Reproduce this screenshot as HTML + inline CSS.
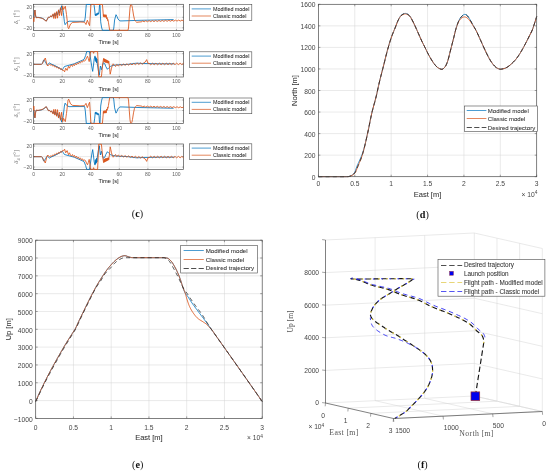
<!DOCTYPE html>
<html lang="en"><head><meta charset="utf-8"><title>Figure</title>
<style>html,body{margin:0;padding:0;background:#fff}svg{display:block}text{white-space:pre}</style>
</head><body>
<svg width="550" height="473" viewBox="0 0 550 473">
<rect x="0" y="0" width="550" height="473" fill="#fff"/>
<filter id="soft" x="0" y="0" width="550" height="473" filterUnits="userSpaceOnUse"><feGaussianBlur stdDeviation="0.35"/></filter>
<g filter="url(#soft)">
<rect x="0" y="0" width="550" height="473" fill="#fff"/>
<defs>
<clipPath id="cc0"><rect x="33.2" y="3.8" width="150.8" height="27.099999999999998"/></clipPath>
<clipPath id="cc1"><rect x="33.2" y="51.0" width="150.8" height="26.5"/></clipPath>
<clipPath id="cc2"><rect x="33.2" y="97.2" width="150.8" height="26.700000000000003"/></clipPath>
<clipPath id="cc3"><rect x="33.2" y="143.5" width="150.8" height="26.5"/></clipPath>
</defs>
<line x1="62.17" y1="4.30" x2="62.17" y2="30.40" stroke="#d4d4d4" stroke-width="0.5"/>
<line x1="90.74" y1="4.30" x2="90.74" y2="30.40" stroke="#d4d4d4" stroke-width="0.5"/>
<line x1="119.31" y1="4.30" x2="119.31" y2="30.40" stroke="#d4d4d4" stroke-width="0.5"/>
<line x1="147.89" y1="4.30" x2="147.89" y2="30.40" stroke="#d4d4d4" stroke-width="0.5"/>
<line x1="176.46" y1="4.30" x2="176.46" y2="30.40" stroke="#d4d4d4" stroke-width="0.5"/>
<line x1="33.60" y1="27.80" x2="183.60" y2="27.80" stroke="#d4d4d4" stroke-width="0.5"/>
<line x1="33.60" y1="17.30" x2="183.60" y2="17.30" stroke="#d4d4d4" stroke-width="0.5"/>
<line x1="33.60" y1="6.80" x2="183.60" y2="6.80" stroke="#d4d4d4" stroke-width="0.5"/>
<rect x="33.60" y="4.30" width="150.00" height="26.10" fill="none" stroke="#4a4a4a" stroke-width="0.7"/>
<g clip-path="url(#cc0)">
<polyline points="33.60,17.30 34.20,13.00 34.80,10.00 35.40,15.00 36.00,17.50 38.00,17.30 41.00,17.80 43.00,18.50 45.00,20.00 46.20,21.10 47.30,19.30 48.40,17.30 49.50,17.30 50.90,16.00 51.60,16.80 53.10,14.50 53.80,16.50 54.90,13.50 55.60,16.00 56.60,12.30 57.50,15.00 58.50,10.50 59.50,13.00 60.50,8.20 61.00,10.00 61.60,5.80 62.50,8.00 63.30,12.40 64.40,21.80 65.10,24.70 66.90,22.20 69.10,21.20 76.00,21.30 84.60,21.30 85.30,17.00 86.30,4.45 94.00,4.45 94.60,9.00 95.30,15.30 95.40,14.20 95.85,15.91 96.30,13.70 96.75,15.34 97.20,13.20 97.65,14.76 98.10,12.70 98.55,14.19 99.00,12.20 99.30,8.00 99.60,4.45 100.00,4.45 100.30,12.00 100.70,21.80 101.50,27.00 102.40,30.25 113.30,30.25 113.80,28.00 114.60,20.00 116.00,14.70 117.00,16.50 118.00,19.00 119.80,20.90 122.00,20.90 140.00,20.30 160.00,19.90 173.60,19.60" fill="none" stroke="#0072BD" stroke-width="0.85" stroke-linejoin="round" />
<polyline points="33.60,17.30 33.80,21.80 34.40,14.00 35.00,10.00 35.60,15.00 36.20,17.80 38.00,17.50 41.00,18.00 43.00,18.80 45.00,20.30 46.30,21.20 47.40,19.00 48.40,17.10 49.50,17.50 50.90,15.60 51.60,17.10 53.10,13.80 53.80,18.50 54.90,12.70 55.60,18.50 56.60,11.60 57.50,18.20 58.50,9.80 59.50,15.60 60.50,7.60 61.60,15.60 62.70,6.20 63.60,9.50 65.30,6.20 66.50,14.50 68.00,27.60 68.70,28.70 70.50,24.00 72.70,22.40 78.00,22.20 80.00,22.00 84.50,22.20 86.00,24.50 86.70,22.00 87.40,20.20 88.40,23.00 89.60,25.60 90.30,15.00 90.90,4.45 102.40,4.45 102.90,10.00 103.40,16.40 103.50,14.60 103.95,17.07 104.40,14.67 104.85,17.20 105.30,14.73 105.75,17.33 106.20,14.80 106.30,15.50 106.72,18.84 107.14,17.54 107.56,20.52 107.98,19.58 108.40,22.20 109.00,26.00 109.70,30.25 128.00,30.25 128.50,28.00 129.30,17.00 130.00,8.00 130.50,5.00 131.20,4.90 131.80,5.20 132.50,8.50 133.50,15.00 134.50,19.60 135.60,21.30 136.70,22.30 139.00,22.00 141.80,21.80 142.50,20.75 144.14,21.81 145.79,20.69 147.43,21.74 149.08,20.64 150.72,21.67 152.36,20.58 154.01,21.60 155.65,20.53 157.30,21.53 158.94,20.47 160.58,21.45 162.23,20.41 163.87,21.38 165.52,20.36 167.16,21.31 168.80,20.30 170.45,21.24 172.09,20.25 173.74,21.17 175.38,20.19 177.02,21.09 178.67,20.13 180.31,21.02 181.96,20.08 183.60,20.95" fill="none" stroke="#D95319" stroke-width="0.85" stroke-linejoin="round" />
</g>
<line x1="33.60" y1="30.40" x2="33.60" y2="29.20" stroke="#4a4a4a" stroke-width="0.5"/>
<line x1="33.60" y1="4.30" x2="33.60" y2="5.50" stroke="#4a4a4a" stroke-width="0.5"/>
<text x="33.60" y="36.50" font-size="5.0" text-anchor="middle" fill="#5e5e5e" stroke="#5e5e5e" stroke-width="0.0" font-family="Liberation Sans, Arial, sans-serif" >0</text>
<line x1="62.17" y1="30.40" x2="62.17" y2="29.20" stroke="#4a4a4a" stroke-width="0.5"/>
<line x1="62.17" y1="4.30" x2="62.17" y2="5.50" stroke="#4a4a4a" stroke-width="0.5"/>
<text x="62.17" y="36.50" font-size="5.0" text-anchor="middle" fill="#5e5e5e" stroke="#5e5e5e" stroke-width="0.0" font-family="Liberation Sans, Arial, sans-serif" >20</text>
<line x1="90.74" y1="30.40" x2="90.74" y2="29.20" stroke="#4a4a4a" stroke-width="0.5"/>
<line x1="90.74" y1="4.30" x2="90.74" y2="5.50" stroke="#4a4a4a" stroke-width="0.5"/>
<text x="90.74" y="36.50" font-size="5.0" text-anchor="middle" fill="#5e5e5e" stroke="#5e5e5e" stroke-width="0.0" font-family="Liberation Sans, Arial, sans-serif" >40</text>
<line x1="119.31" y1="30.40" x2="119.31" y2="29.20" stroke="#4a4a4a" stroke-width="0.5"/>
<line x1="119.31" y1="4.30" x2="119.31" y2="5.50" stroke="#4a4a4a" stroke-width="0.5"/>
<text x="119.31" y="36.50" font-size="5.0" text-anchor="middle" fill="#5e5e5e" stroke="#5e5e5e" stroke-width="0.0" font-family="Liberation Sans, Arial, sans-serif" >60</text>
<line x1="147.89" y1="30.40" x2="147.89" y2="29.20" stroke="#4a4a4a" stroke-width="0.5"/>
<line x1="147.89" y1="4.30" x2="147.89" y2="5.50" stroke="#4a4a4a" stroke-width="0.5"/>
<text x="147.89" y="36.50" font-size="5.0" text-anchor="middle" fill="#5e5e5e" stroke="#5e5e5e" stroke-width="0.0" font-family="Liberation Sans, Arial, sans-serif" >80</text>
<line x1="176.46" y1="30.40" x2="176.46" y2="29.20" stroke="#4a4a4a" stroke-width="0.5"/>
<line x1="176.46" y1="4.30" x2="176.46" y2="5.50" stroke="#4a4a4a" stroke-width="0.5"/>
<text x="176.46" y="36.50" font-size="5.0" text-anchor="middle" fill="#5e5e5e" stroke="#5e5e5e" stroke-width="0.0" font-family="Liberation Sans, Arial, sans-serif" >100</text>
<line x1="33.60" y1="27.80" x2="34.80" y2="27.80" stroke="#4a4a4a" stroke-width="0.5"/>
<line x1="183.60" y1="27.80" x2="182.40" y2="27.80" stroke="#4a4a4a" stroke-width="0.5"/>
<text x="32.00" y="29.60" font-size="5.0" text-anchor="end" fill="#5e5e5e" stroke="#5e5e5e" stroke-width="0.0" font-family="Liberation Sans, Arial, sans-serif" >−20</text>
<line x1="33.60" y1="17.30" x2="34.80" y2="17.30" stroke="#4a4a4a" stroke-width="0.5"/>
<line x1="183.60" y1="17.30" x2="182.40" y2="17.30" stroke="#4a4a4a" stroke-width="0.5"/>
<text x="32.00" y="19.10" font-size="5.0" text-anchor="end" fill="#5e5e5e" stroke="#5e5e5e" stroke-width="0.0" font-family="Liberation Sans, Arial, sans-serif" >0</text>
<line x1="33.60" y1="6.80" x2="34.80" y2="6.80" stroke="#4a4a4a" stroke-width="0.5"/>
<line x1="183.60" y1="6.80" x2="182.40" y2="6.80" stroke="#4a4a4a" stroke-width="0.5"/>
<text x="32.00" y="8.60" font-size="5.0" text-anchor="end" fill="#5e5e5e" stroke="#5e5e5e" stroke-width="0.0" font-family="Liberation Sans, Arial, sans-serif" >20</text>
<text x="108.60" y="44.30" font-size="5.7" text-anchor="middle" fill="#333" stroke="#333" stroke-width="0.05" font-family="Liberation Sans, Arial, sans-serif" >Time [s]</text>
<text transform="translate(18.2,17.35) rotate(-90)" font-size="6.6" text-anchor="middle" fill="#777" font-family="Liberation Serif, Times New Roman, serif"><tspan font-style="italic">δ</tspan><tspan font-size="4.2" dy="1.3">1</tspan><tspan dy="-1.3"> [°]</tspan></text>
<rect x="189.50" y="4.60" width="62.30" height="15.70" fill="#fff" stroke="#4a4a4a" stroke-width="0.6"/>
<line x1="191.70" y1="8.90" x2="211.00" y2="8.90" stroke="#0072BD" stroke-width="0.7"/>
<line x1="191.70" y1="16.00" x2="211.00" y2="16.00" stroke="#D95319" stroke-width="0.7"/>
<text x="213.00" y="10.80" font-size="5.4" text-anchor="start" fill="#333" stroke="#333" stroke-width="0.06" font-family="Liberation Sans, Arial, sans-serif" >Modified model</text>
<text x="213.00" y="17.90" font-size="5.4" text-anchor="start" fill="#333" stroke="#333" stroke-width="0.06" font-family="Liberation Sans, Arial, sans-serif" >Classic model</text>
<line x1="62.17" y1="51.50" x2="62.17" y2="77.00" stroke="#d4d4d4" stroke-width="0.5"/>
<line x1="90.74" y1="51.50" x2="90.74" y2="77.00" stroke="#d4d4d4" stroke-width="0.5"/>
<line x1="119.31" y1="51.50" x2="119.31" y2="77.00" stroke="#d4d4d4" stroke-width="0.5"/>
<line x1="147.89" y1="51.50" x2="147.89" y2="77.00" stroke="#d4d4d4" stroke-width="0.5"/>
<line x1="176.46" y1="51.50" x2="176.46" y2="77.00" stroke="#d4d4d4" stroke-width="0.5"/>
<line x1="33.60" y1="74.70" x2="183.60" y2="74.70" stroke="#d4d4d4" stroke-width="0.5"/>
<line x1="33.60" y1="64.20" x2="183.60" y2="64.20" stroke="#d4d4d4" stroke-width="0.5"/>
<line x1="33.60" y1="53.70" x2="183.60" y2="53.70" stroke="#d4d4d4" stroke-width="0.5"/>
<rect x="33.60" y="51.50" width="150.00" height="25.50" fill="none" stroke="#4a4a4a" stroke-width="0.7"/>
<g clip-path="url(#cc1)">
<polyline points="33.60,64.30 41.50,64.30 42.50,63.30 43.60,60.00 44.60,60.60 45.50,62.50 46.40,63.80 47.50,64.60 49.60,62.90 51.00,64.00 53.40,64.90 57.80,67.10 62.20,69.80 63.20,68.50 64.40,66.50 74.20,63.80 84.00,59.50 85.60,55.60 86.70,51.65 89.50,51.65 90.30,57.00 91.10,62.20 92.00,68.00 92.70,71.40 93.40,66.00 94.20,59.00 94.90,56.20 95.00,55.90 95.33,60.74 95.66,56.96 95.99,61.83 96.31,58.01 96.64,62.91 96.97,59.07 97.30,64.00 97.80,67.00 98.60,72.00 99.30,75.30 99.90,70.00 100.40,66.00 101.40,69.80 102.40,66.00 103.40,62.70 104.60,63.40 105.80,66.50 107.40,69.30 108.80,67.80 110.20,66.50 113.00,65.40 116.70,64.90 127.60,64.40 136.30,63.20 144.00,63.50 160.00,63.80 174.50,63.80" fill="none" stroke="#0072BD" stroke-width="0.85" stroke-linejoin="round" />
<polyline points="33.60,64.30 41.50,64.30 42.30,63.50 43.60,61.00 45.30,58.00 46.30,62.00 47.00,65.00 47.80,66.00 48.60,64.80 49.60,64.00 50.50,65.20 51.50,64.45 52.50,66.00 53.50,65.28 54.50,66.88 55.50,66.11 56.50,67.78 57.50,66.94 58.50,68.66 59.50,67.77 60.50,69.56 61.50,68.60 62.60,70.50 63.60,70.20 64.60,71.80 65.70,68.20 67.10,70.40 68.50,66.30 69.50,68.20 70.50,65.60 71.50,65.10 72.50,66.46 73.50,64.32 74.50,65.58 75.50,63.53 76.50,64.71 77.50,62.75 78.50,63.83 79.50,61.96 80.50,62.95 81.50,61.18 82.50,62.08 83.50,60.39 84.50,61.20 85.60,60.00 86.50,58.00 87.50,56.20 88.30,58.50 89.20,61.60 89.90,57.00 90.50,51.65 93.00,51.65 93.60,53.30 94.20,51.65 97.60,51.65 98.10,62.00 98.70,76.85 101.40,76.85 101.90,72.00 102.70,64.00 103.60,58.40 103.70,58.40 104.06,61.92 104.42,58.79 104.78,62.16 105.14,59.17 105.50,62.40 105.86,59.56 106.22,62.64 106.58,59.95 106.94,62.88 107.30,60.33 107.66,63.12 108.02,60.72 108.38,63.36 108.74,61.11 109.10,63.60 109.60,68.00 110.20,74.20 110.80,71.50 111.50,68.20 112.30,65.50 113.20,63.80 114.40,65.40 115.60,66.50 116.60,64.50 118.31,65.79 120.02,64.28 121.74,65.56 123.45,64.05 125.16,65.34 126.88,63.83 128.59,65.11 130.30,63.60 132.01,64.89 133.72,63.38 135.44,64.66 137.15,63.15 138.86,64.44 140.57,62.92 142.29,64.21 144.00,62.70 145.30,62.00 146.70,59.60 148.00,63.50 149.00,63.20 150.73,64.79 152.46,63.20 154.19,64.77 155.92,63.20 157.65,64.75 159.38,63.20 161.11,64.73 162.84,63.20 164.57,64.71 166.30,63.20 168.03,64.69 169.76,63.20 171.49,64.67 173.22,63.20 174.95,64.65 176.68,63.20 178.41,64.63 180.14,63.20 181.87,64.61 183.60,63.20" fill="none" stroke="#D95319" stroke-width="0.85" stroke-linejoin="round" />
</g>
<line x1="33.60" y1="77.00" x2="33.60" y2="75.80" stroke="#4a4a4a" stroke-width="0.5"/>
<line x1="33.60" y1="51.50" x2="33.60" y2="52.70" stroke="#4a4a4a" stroke-width="0.5"/>
<text x="33.60" y="83.10" font-size="5.0" text-anchor="middle" fill="#5e5e5e" stroke="#5e5e5e" stroke-width="0.0" font-family="Liberation Sans, Arial, sans-serif" >0</text>
<line x1="62.17" y1="77.00" x2="62.17" y2="75.80" stroke="#4a4a4a" stroke-width="0.5"/>
<line x1="62.17" y1="51.50" x2="62.17" y2="52.70" stroke="#4a4a4a" stroke-width="0.5"/>
<text x="62.17" y="83.10" font-size="5.0" text-anchor="middle" fill="#5e5e5e" stroke="#5e5e5e" stroke-width="0.0" font-family="Liberation Sans, Arial, sans-serif" >20</text>
<line x1="90.74" y1="77.00" x2="90.74" y2="75.80" stroke="#4a4a4a" stroke-width="0.5"/>
<line x1="90.74" y1="51.50" x2="90.74" y2="52.70" stroke="#4a4a4a" stroke-width="0.5"/>
<text x="90.74" y="83.10" font-size="5.0" text-anchor="middle" fill="#5e5e5e" stroke="#5e5e5e" stroke-width="0.0" font-family="Liberation Sans, Arial, sans-serif" >40</text>
<line x1="119.31" y1="77.00" x2="119.31" y2="75.80" stroke="#4a4a4a" stroke-width="0.5"/>
<line x1="119.31" y1="51.50" x2="119.31" y2="52.70" stroke="#4a4a4a" stroke-width="0.5"/>
<text x="119.31" y="83.10" font-size="5.0" text-anchor="middle" fill="#5e5e5e" stroke="#5e5e5e" stroke-width="0.0" font-family="Liberation Sans, Arial, sans-serif" >60</text>
<line x1="147.89" y1="77.00" x2="147.89" y2="75.80" stroke="#4a4a4a" stroke-width="0.5"/>
<line x1="147.89" y1="51.50" x2="147.89" y2="52.70" stroke="#4a4a4a" stroke-width="0.5"/>
<text x="147.89" y="83.10" font-size="5.0" text-anchor="middle" fill="#5e5e5e" stroke="#5e5e5e" stroke-width="0.0" font-family="Liberation Sans, Arial, sans-serif" >80</text>
<line x1="176.46" y1="77.00" x2="176.46" y2="75.80" stroke="#4a4a4a" stroke-width="0.5"/>
<line x1="176.46" y1="51.50" x2="176.46" y2="52.70" stroke="#4a4a4a" stroke-width="0.5"/>
<text x="176.46" y="83.10" font-size="5.0" text-anchor="middle" fill="#5e5e5e" stroke="#5e5e5e" stroke-width="0.0" font-family="Liberation Sans, Arial, sans-serif" >100</text>
<line x1="33.60" y1="74.70" x2="34.80" y2="74.70" stroke="#4a4a4a" stroke-width="0.5"/>
<line x1="183.60" y1="74.70" x2="182.40" y2="74.70" stroke="#4a4a4a" stroke-width="0.5"/>
<text x="32.00" y="76.50" font-size="5.0" text-anchor="end" fill="#5e5e5e" stroke="#5e5e5e" stroke-width="0.0" font-family="Liberation Sans, Arial, sans-serif" >−20</text>
<line x1="33.60" y1="64.20" x2="34.80" y2="64.20" stroke="#4a4a4a" stroke-width="0.5"/>
<line x1="183.60" y1="64.20" x2="182.40" y2="64.20" stroke="#4a4a4a" stroke-width="0.5"/>
<text x="32.00" y="66.00" font-size="5.0" text-anchor="end" fill="#5e5e5e" stroke="#5e5e5e" stroke-width="0.0" font-family="Liberation Sans, Arial, sans-serif" >0</text>
<line x1="33.60" y1="53.70" x2="34.80" y2="53.70" stroke="#4a4a4a" stroke-width="0.5"/>
<line x1="183.60" y1="53.70" x2="182.40" y2="53.70" stroke="#4a4a4a" stroke-width="0.5"/>
<text x="32.00" y="55.50" font-size="5.0" text-anchor="end" fill="#5e5e5e" stroke="#5e5e5e" stroke-width="0.0" font-family="Liberation Sans, Arial, sans-serif" >20</text>
<text x="108.60" y="90.90" font-size="5.7" text-anchor="middle" fill="#333" stroke="#333" stroke-width="0.05" font-family="Liberation Sans, Arial, sans-serif" >Time [s]</text>
<text transform="translate(18.2,64.25) rotate(-90)" font-size="6.6" text-anchor="middle" fill="#777" font-family="Liberation Serif, Times New Roman, serif"><tspan font-style="italic">δ</tspan><tspan font-size="4.2" dy="1.3">2</tspan><tspan dy="-1.3"> [°]</tspan></text>
<rect x="189.50" y="51.80" width="62.30" height="15.70" fill="#fff" stroke="#4a4a4a" stroke-width="0.6"/>
<line x1="191.70" y1="56.10" x2="211.00" y2="56.10" stroke="#0072BD" stroke-width="0.7"/>
<line x1="191.70" y1="63.20" x2="211.00" y2="63.20" stroke="#D95319" stroke-width="0.7"/>
<text x="213.00" y="58.00" font-size="5.4" text-anchor="start" fill="#333" stroke="#333" stroke-width="0.06" font-family="Liberation Sans, Arial, sans-serif" >Modified model</text>
<text x="213.00" y="65.10" font-size="5.4" text-anchor="start" fill="#333" stroke="#333" stroke-width="0.06" font-family="Liberation Sans, Arial, sans-serif" >Classic model</text>
<line x1="62.17" y1="97.70" x2="62.17" y2="123.40" stroke="#d4d4d4" stroke-width="0.5"/>
<line x1="90.74" y1="97.70" x2="90.74" y2="123.40" stroke="#d4d4d4" stroke-width="0.5"/>
<line x1="119.31" y1="97.70" x2="119.31" y2="123.40" stroke="#d4d4d4" stroke-width="0.5"/>
<line x1="147.89" y1="97.70" x2="147.89" y2="123.40" stroke="#d4d4d4" stroke-width="0.5"/>
<line x1="176.46" y1="97.70" x2="176.46" y2="123.40" stroke="#d4d4d4" stroke-width="0.5"/>
<line x1="33.60" y1="121.00" x2="183.60" y2="121.00" stroke="#d4d4d4" stroke-width="0.5"/>
<line x1="33.60" y1="110.50" x2="183.60" y2="110.50" stroke="#d4d4d4" stroke-width="0.5"/>
<line x1="33.60" y1="100.00" x2="183.60" y2="100.00" stroke="#d4d4d4" stroke-width="0.5"/>
<rect x="33.60" y="97.70" width="150.00" height="25.70" fill="none" stroke="#4a4a4a" stroke-width="0.7"/>
<g clip-path="url(#cc2)">
<polyline points="33.60,110.55 34.20,114.85 34.80,117.85 35.40,112.85 36.00,110.35 38.00,110.55 41.00,110.05 43.00,109.35 45.00,107.85 46.20,106.75 47.30,108.55 48.40,110.55 49.50,110.55 50.90,111.85 51.60,111.05 53.10,113.35 53.80,111.35 54.90,114.35 55.60,111.85 56.60,115.55 57.50,112.85 58.50,117.35 59.50,114.85 60.50,119.65 61.00,117.85 61.60,122.05 62.50,119.85 63.30,115.45 64.40,106.05 65.10,103.15 66.90,105.65 69.10,106.65 76.00,106.55 84.60,106.55 85.30,110.85 86.30,123.40 94.00,123.40 94.60,118.85 95.30,112.55 95.40,113.65 95.85,111.94 96.30,114.15 96.75,112.51 97.20,114.65 97.65,113.09 98.10,115.15 98.55,113.66 99.00,115.65 99.30,119.85 99.60,123.40 100.00,123.40 100.30,115.85 100.70,106.05 101.50,100.85 102.40,97.60 113.30,97.60 113.80,99.85 114.60,107.85 116.00,113.15 117.00,111.35 118.00,108.85 119.80,106.95 122.00,106.95 140.00,107.55 160.00,107.95 173.60,108.25" fill="none" stroke="#0072BD" stroke-width="0.85" stroke-linejoin="round" />
<polyline points="33.60,110.55 33.80,106.05 34.40,113.85 35.00,117.85 35.60,112.85 36.20,110.05 38.00,110.35 41.00,109.85 43.00,109.05 45.00,107.55 46.30,106.65 47.40,108.85 48.40,110.75 49.50,110.35 50.90,112.25 51.60,110.75 53.10,114.05 53.80,109.35 54.90,115.15 55.60,109.35 56.60,116.25 57.50,109.65 58.50,118.05 59.50,112.25 60.50,120.25 61.60,112.25 62.70,121.65 63.60,118.35 65.30,121.65 66.50,113.35 68.00,100.25 68.70,99.15 70.50,103.85 72.70,105.45 78.00,105.65 80.00,105.85 84.50,105.65 86.00,103.35 86.70,105.85 87.40,107.65 88.40,104.85 89.60,102.25 90.30,112.85 90.90,123.40 102.40,123.40 102.90,117.85 103.40,111.45 103.50,113.25 103.95,110.78 104.40,113.18 104.85,110.65 105.30,113.12 105.75,110.52 106.20,113.05 106.30,112.35 106.72,109.01 107.14,110.31 107.56,107.33 107.98,108.27 108.40,105.65 109.00,101.85 109.70,97.60 128.00,97.60 128.50,99.85 129.30,110.85 130.00,119.85 130.50,122.85 131.20,122.95 131.80,122.65 132.50,119.35 133.50,112.85 134.50,108.25 135.60,106.55 136.70,105.55 139.00,105.85 141.80,106.05 142.50,107.10 144.14,106.04 145.79,107.16 147.43,106.11 149.08,107.21 150.72,106.18 152.36,107.27 154.01,106.25 155.65,107.32 157.30,106.32 158.94,107.38 160.58,106.40 162.23,107.44 163.87,106.47 165.52,107.49 167.16,106.54 168.80,107.55 170.45,106.61 172.09,107.60 173.74,106.68 175.38,107.66 177.02,106.76 178.67,107.72 180.31,106.83 181.96,107.77 183.60,106.90" fill="none" stroke="#D95319" stroke-width="0.85" stroke-linejoin="round" />
</g>
<line x1="33.60" y1="123.40" x2="33.60" y2="122.20" stroke="#4a4a4a" stroke-width="0.5"/>
<line x1="33.60" y1="97.70" x2="33.60" y2="98.90" stroke="#4a4a4a" stroke-width="0.5"/>
<text x="33.60" y="129.50" font-size="5.0" text-anchor="middle" fill="#5e5e5e" stroke="#5e5e5e" stroke-width="0.0" font-family="Liberation Sans, Arial, sans-serif" >0</text>
<line x1="62.17" y1="123.40" x2="62.17" y2="122.20" stroke="#4a4a4a" stroke-width="0.5"/>
<line x1="62.17" y1="97.70" x2="62.17" y2="98.90" stroke="#4a4a4a" stroke-width="0.5"/>
<text x="62.17" y="129.50" font-size="5.0" text-anchor="middle" fill="#5e5e5e" stroke="#5e5e5e" stroke-width="0.0" font-family="Liberation Sans, Arial, sans-serif" >20</text>
<line x1="90.74" y1="123.40" x2="90.74" y2="122.20" stroke="#4a4a4a" stroke-width="0.5"/>
<line x1="90.74" y1="97.70" x2="90.74" y2="98.90" stroke="#4a4a4a" stroke-width="0.5"/>
<text x="90.74" y="129.50" font-size="5.0" text-anchor="middle" fill="#5e5e5e" stroke="#5e5e5e" stroke-width="0.0" font-family="Liberation Sans, Arial, sans-serif" >40</text>
<line x1="119.31" y1="123.40" x2="119.31" y2="122.20" stroke="#4a4a4a" stroke-width="0.5"/>
<line x1="119.31" y1="97.70" x2="119.31" y2="98.90" stroke="#4a4a4a" stroke-width="0.5"/>
<text x="119.31" y="129.50" font-size="5.0" text-anchor="middle" fill="#5e5e5e" stroke="#5e5e5e" stroke-width="0.0" font-family="Liberation Sans, Arial, sans-serif" >60</text>
<line x1="147.89" y1="123.40" x2="147.89" y2="122.20" stroke="#4a4a4a" stroke-width="0.5"/>
<line x1="147.89" y1="97.70" x2="147.89" y2="98.90" stroke="#4a4a4a" stroke-width="0.5"/>
<text x="147.89" y="129.50" font-size="5.0" text-anchor="middle" fill="#5e5e5e" stroke="#5e5e5e" stroke-width="0.0" font-family="Liberation Sans, Arial, sans-serif" >80</text>
<line x1="176.46" y1="123.40" x2="176.46" y2="122.20" stroke="#4a4a4a" stroke-width="0.5"/>
<line x1="176.46" y1="97.70" x2="176.46" y2="98.90" stroke="#4a4a4a" stroke-width="0.5"/>
<text x="176.46" y="129.50" font-size="5.0" text-anchor="middle" fill="#5e5e5e" stroke="#5e5e5e" stroke-width="0.0" font-family="Liberation Sans, Arial, sans-serif" >100</text>
<line x1="33.60" y1="121.00" x2="34.80" y2="121.00" stroke="#4a4a4a" stroke-width="0.5"/>
<line x1="183.60" y1="121.00" x2="182.40" y2="121.00" stroke="#4a4a4a" stroke-width="0.5"/>
<text x="32.00" y="122.80" font-size="5.0" text-anchor="end" fill="#5e5e5e" stroke="#5e5e5e" stroke-width="0.0" font-family="Liberation Sans, Arial, sans-serif" >−20</text>
<line x1="33.60" y1="110.50" x2="34.80" y2="110.50" stroke="#4a4a4a" stroke-width="0.5"/>
<line x1="183.60" y1="110.50" x2="182.40" y2="110.50" stroke="#4a4a4a" stroke-width="0.5"/>
<text x="32.00" y="112.30" font-size="5.0" text-anchor="end" fill="#5e5e5e" stroke="#5e5e5e" stroke-width="0.0" font-family="Liberation Sans, Arial, sans-serif" >0</text>
<line x1="33.60" y1="100.00" x2="34.80" y2="100.00" stroke="#4a4a4a" stroke-width="0.5"/>
<line x1="183.60" y1="100.00" x2="182.40" y2="100.00" stroke="#4a4a4a" stroke-width="0.5"/>
<text x="32.00" y="101.80" font-size="5.0" text-anchor="end" fill="#5e5e5e" stroke="#5e5e5e" stroke-width="0.0" font-family="Liberation Sans, Arial, sans-serif" >20</text>
<text x="108.60" y="137.30" font-size="5.7" text-anchor="middle" fill="#333" stroke="#333" stroke-width="0.05" font-family="Liberation Sans, Arial, sans-serif" >Time [s]</text>
<text transform="translate(18.2,110.55) rotate(-90)" font-size="6.6" text-anchor="middle" fill="#777" font-family="Liberation Serif, Times New Roman, serif"><tspan font-style="italic">δ</tspan><tspan font-size="4.2" dy="1.3">3</tspan><tspan dy="-1.3"> [°]</tspan></text>
<rect x="189.50" y="98.00" width="62.30" height="15.70" fill="#fff" stroke="#4a4a4a" stroke-width="0.6"/>
<line x1="191.70" y1="102.30" x2="211.00" y2="102.30" stroke="#0072BD" stroke-width="0.7"/>
<line x1="191.70" y1="109.40" x2="211.00" y2="109.40" stroke="#D95319" stroke-width="0.7"/>
<text x="213.00" y="104.20" font-size="5.4" text-anchor="start" fill="#333" stroke="#333" stroke-width="0.06" font-family="Liberation Sans, Arial, sans-serif" >Modified model</text>
<text x="213.00" y="111.30" font-size="5.4" text-anchor="start" fill="#333" stroke="#333" stroke-width="0.06" font-family="Liberation Sans, Arial, sans-serif" >Classic model</text>
<line x1="62.17" y1="144.00" x2="62.17" y2="169.50" stroke="#d4d4d4" stroke-width="0.5"/>
<line x1="90.74" y1="144.00" x2="90.74" y2="169.50" stroke="#d4d4d4" stroke-width="0.5"/>
<line x1="119.31" y1="144.00" x2="119.31" y2="169.50" stroke="#d4d4d4" stroke-width="0.5"/>
<line x1="147.89" y1="144.00" x2="147.89" y2="169.50" stroke="#d4d4d4" stroke-width="0.5"/>
<line x1="176.46" y1="144.00" x2="176.46" y2="169.50" stroke="#d4d4d4" stroke-width="0.5"/>
<line x1="33.60" y1="167.10" x2="183.60" y2="167.10" stroke="#d4d4d4" stroke-width="0.5"/>
<line x1="33.60" y1="156.60" x2="183.60" y2="156.60" stroke="#d4d4d4" stroke-width="0.5"/>
<line x1="33.60" y1="146.10" x2="183.60" y2="146.10" stroke="#d4d4d4" stroke-width="0.5"/>
<rect x="33.60" y="144.00" width="150.00" height="25.50" fill="none" stroke="#4a4a4a" stroke-width="0.7"/>
<g clip-path="url(#cc3)">
<polyline points="33.60,156.70 41.50,156.70 42.50,157.70 43.60,161.00 44.60,160.40 45.50,158.50 46.40,157.20 47.50,156.40 49.60,158.10 51.00,157.00 53.40,156.10 57.80,153.90 62.20,151.20 63.20,152.50 64.40,154.50 74.20,157.20 84.00,161.50 85.60,165.40 86.70,169.35 89.50,169.35 90.30,164.00 91.10,158.80 92.00,153.00 92.70,149.60 93.40,155.00 94.20,162.00 94.90,164.80 95.00,165.10 95.33,160.26 95.66,164.04 95.99,159.17 96.31,162.99 96.64,158.09 96.97,161.93 97.30,157.00 97.80,154.00 98.60,149.00 99.30,145.70 99.90,151.00 100.40,155.00 101.40,151.20 102.40,155.00 103.40,158.30 104.60,157.60 105.80,154.50 107.40,151.70 108.80,153.20 110.20,154.50 113.00,155.60 116.70,156.10 127.60,156.60 136.30,157.80 144.00,157.50 160.00,157.20 174.50,157.20" fill="none" stroke="#0072BD" stroke-width="0.85" stroke-linejoin="round" />
<polyline points="33.60,156.70 41.50,156.70 42.30,157.50 43.60,160.00 45.30,163.00 46.30,159.00 47.00,156.00 47.80,155.00 48.60,156.20 49.60,157.00 50.50,155.80 51.50,156.55 52.50,155.00 53.50,155.72 54.50,154.12 55.50,154.89 56.50,153.22 57.50,154.06 58.50,152.34 59.50,153.23 60.50,151.44 61.50,152.40 62.60,150.50 63.60,150.80 64.60,149.20 65.70,152.80 67.10,150.60 68.50,154.70 69.50,152.80 70.50,155.40 71.50,155.90 72.50,154.54 73.50,156.68 74.50,155.42 75.50,157.47 76.50,156.29 77.50,158.25 78.50,157.17 79.50,159.04 80.50,158.05 81.50,159.82 82.50,158.92 83.50,160.61 84.50,159.80 85.60,161.00 86.50,163.00 87.50,164.80 88.30,162.50 89.20,159.40 89.90,164.00 90.50,169.35 93.00,169.35 93.60,167.70 94.20,169.35 97.60,169.35 98.10,159.00 98.70,144.15 101.40,144.15 101.90,149.00 102.70,157.00 103.60,162.60 103.70,162.60 104.06,159.08 104.42,162.21 104.78,158.84 105.14,161.83 105.50,158.60 105.86,161.44 106.22,158.36 106.58,161.05 106.94,158.12 107.30,160.67 107.66,157.88 108.02,160.28 108.38,157.64 108.74,159.89 109.10,157.40 109.60,153.00 110.20,146.80 110.80,149.50 111.50,152.80 112.30,155.50 113.20,157.20 114.40,155.60 115.60,154.50 116.60,156.50 118.31,155.21 120.02,156.72 121.74,155.44 123.45,156.95 125.16,155.66 126.88,157.18 128.59,155.89 130.30,157.40 132.01,156.11 133.72,157.62 135.44,156.34 137.15,157.85 138.86,156.56 140.57,158.07 142.29,156.79 144.00,158.30 145.30,159.00 146.70,161.40 148.00,157.50 149.00,157.80 150.73,156.21 152.46,157.80 154.19,156.23 155.92,157.80 157.65,156.25 159.38,157.80 161.11,156.27 162.84,157.80 164.57,156.29 166.30,157.80 168.03,156.31 169.76,157.80 171.49,156.33 173.22,157.80 174.95,156.35 176.68,157.80 178.41,156.37 180.14,157.80 181.87,156.39 183.60,157.80" fill="none" stroke="#D95319" stroke-width="0.85" stroke-linejoin="round" />
</g>
<line x1="33.60" y1="169.50" x2="33.60" y2="168.30" stroke="#4a4a4a" stroke-width="0.5"/>
<line x1="33.60" y1="144.00" x2="33.60" y2="145.20" stroke="#4a4a4a" stroke-width="0.5"/>
<text x="33.60" y="175.60" font-size="5.0" text-anchor="middle" fill="#5e5e5e" stroke="#5e5e5e" stroke-width="0.0" font-family="Liberation Sans, Arial, sans-serif" >0</text>
<line x1="62.17" y1="169.50" x2="62.17" y2="168.30" stroke="#4a4a4a" stroke-width="0.5"/>
<line x1="62.17" y1="144.00" x2="62.17" y2="145.20" stroke="#4a4a4a" stroke-width="0.5"/>
<text x="62.17" y="175.60" font-size="5.0" text-anchor="middle" fill="#5e5e5e" stroke="#5e5e5e" stroke-width="0.0" font-family="Liberation Sans, Arial, sans-serif" >20</text>
<line x1="90.74" y1="169.50" x2="90.74" y2="168.30" stroke="#4a4a4a" stroke-width="0.5"/>
<line x1="90.74" y1="144.00" x2="90.74" y2="145.20" stroke="#4a4a4a" stroke-width="0.5"/>
<text x="90.74" y="175.60" font-size="5.0" text-anchor="middle" fill="#5e5e5e" stroke="#5e5e5e" stroke-width="0.0" font-family="Liberation Sans, Arial, sans-serif" >40</text>
<line x1="119.31" y1="169.50" x2="119.31" y2="168.30" stroke="#4a4a4a" stroke-width="0.5"/>
<line x1="119.31" y1="144.00" x2="119.31" y2="145.20" stroke="#4a4a4a" stroke-width="0.5"/>
<text x="119.31" y="175.60" font-size="5.0" text-anchor="middle" fill="#5e5e5e" stroke="#5e5e5e" stroke-width="0.0" font-family="Liberation Sans, Arial, sans-serif" >60</text>
<line x1="147.89" y1="169.50" x2="147.89" y2="168.30" stroke="#4a4a4a" stroke-width="0.5"/>
<line x1="147.89" y1="144.00" x2="147.89" y2="145.20" stroke="#4a4a4a" stroke-width="0.5"/>
<text x="147.89" y="175.60" font-size="5.0" text-anchor="middle" fill="#5e5e5e" stroke="#5e5e5e" stroke-width="0.0" font-family="Liberation Sans, Arial, sans-serif" >80</text>
<line x1="176.46" y1="169.50" x2="176.46" y2="168.30" stroke="#4a4a4a" stroke-width="0.5"/>
<line x1="176.46" y1="144.00" x2="176.46" y2="145.20" stroke="#4a4a4a" stroke-width="0.5"/>
<text x="176.46" y="175.60" font-size="5.0" text-anchor="middle" fill="#5e5e5e" stroke="#5e5e5e" stroke-width="0.0" font-family="Liberation Sans, Arial, sans-serif" >100</text>
<line x1="33.60" y1="167.10" x2="34.80" y2="167.10" stroke="#4a4a4a" stroke-width="0.5"/>
<line x1="183.60" y1="167.10" x2="182.40" y2="167.10" stroke="#4a4a4a" stroke-width="0.5"/>
<text x="32.00" y="168.90" font-size="5.0" text-anchor="end" fill="#5e5e5e" stroke="#5e5e5e" stroke-width="0.0" font-family="Liberation Sans, Arial, sans-serif" >−20</text>
<line x1="33.60" y1="156.60" x2="34.80" y2="156.60" stroke="#4a4a4a" stroke-width="0.5"/>
<line x1="183.60" y1="156.60" x2="182.40" y2="156.60" stroke="#4a4a4a" stroke-width="0.5"/>
<text x="32.00" y="158.40" font-size="5.0" text-anchor="end" fill="#5e5e5e" stroke="#5e5e5e" stroke-width="0.0" font-family="Liberation Sans, Arial, sans-serif" >0</text>
<line x1="33.60" y1="146.10" x2="34.80" y2="146.10" stroke="#4a4a4a" stroke-width="0.5"/>
<line x1="183.60" y1="146.10" x2="182.40" y2="146.10" stroke="#4a4a4a" stroke-width="0.5"/>
<text x="32.00" y="147.90" font-size="5.0" text-anchor="end" fill="#5e5e5e" stroke="#5e5e5e" stroke-width="0.0" font-family="Liberation Sans, Arial, sans-serif" >20</text>
<text x="108.60" y="183.40" font-size="5.7" text-anchor="middle" fill="#333" stroke="#333" stroke-width="0.05" font-family="Liberation Sans, Arial, sans-serif" >Time [s]</text>
<text transform="translate(18.2,156.75) rotate(-90)" font-size="6.6" text-anchor="middle" fill="#777" font-family="Liberation Serif, Times New Roman, serif"><tspan font-style="italic">δ</tspan><tspan font-size="4.2" dy="1.3">4</tspan><tspan dy="-1.3"> [°]</tspan></text>
<rect x="189.50" y="143.80" width="62.30" height="15.70" fill="#fff" stroke="#4a4a4a" stroke-width="0.6"/>
<line x1="191.70" y1="148.10" x2="211.00" y2="148.10" stroke="#0072BD" stroke-width="0.7"/>
<line x1="191.70" y1="155.20" x2="211.00" y2="155.20" stroke="#D95319" stroke-width="0.7"/>
<text x="213.00" y="150.00" font-size="5.4" text-anchor="start" fill="#333" stroke="#333" stroke-width="0.06" font-family="Liberation Sans, Arial, sans-serif" >Modified model</text>
<text x="213.00" y="157.10" font-size="5.4" text-anchor="start" fill="#333" stroke="#333" stroke-width="0.06" font-family="Liberation Sans, Arial, sans-serif" >Classic model</text>
<text x="137.50" y="217.40" font-size="10.2" text-anchor="middle" fill="#111" font-family="Liberation Serif, Times New Roman, serif">(<tspan font-weight="bold">c</tspan>)</text>
<text x="422.60" y="217.60" font-size="10.2" text-anchor="middle" fill="#111" font-family="Liberation Serif, Times New Roman, serif">(<tspan font-weight="bold">d</tspan>)</text>
<text x="137.70" y="467.60" font-size="10.2" text-anchor="middle" fill="#111" font-family="Liberation Serif, Times New Roman, serif">(<tspan font-weight="bold">e</tspan>)</text>
<line x1="354.78" y1="4.30" x2="354.78" y2="176.70" stroke="#d4d4d4" stroke-width="0.5"/>
<line x1="391.17" y1="4.30" x2="391.17" y2="176.70" stroke="#d4d4d4" stroke-width="0.5"/>
<line x1="427.55" y1="4.30" x2="427.55" y2="176.70" stroke="#d4d4d4" stroke-width="0.5"/>
<line x1="463.93" y1="4.30" x2="463.93" y2="176.70" stroke="#d4d4d4" stroke-width="0.5"/>
<line x1="500.32" y1="4.30" x2="500.32" y2="176.70" stroke="#d4d4d4" stroke-width="0.5"/>
<line x1="318.40" y1="155.15" x2="536.70" y2="155.15" stroke="#d4d4d4" stroke-width="0.5"/>
<line x1="318.40" y1="133.60" x2="536.70" y2="133.60" stroke="#d4d4d4" stroke-width="0.5"/>
<line x1="318.40" y1="112.05" x2="536.70" y2="112.05" stroke="#d4d4d4" stroke-width="0.5"/>
<line x1="318.40" y1="90.50" x2="536.70" y2="90.50" stroke="#d4d4d4" stroke-width="0.5"/>
<line x1="318.40" y1="68.95" x2="536.70" y2="68.95" stroke="#d4d4d4" stroke-width="0.5"/>
<line x1="318.40" y1="47.40" x2="536.70" y2="47.40" stroke="#d4d4d4" stroke-width="0.5"/>
<line x1="318.40" y1="25.85" x2="536.70" y2="25.85" stroke="#d4d4d4" stroke-width="0.5"/>
<polyline points="318.05,176.70 319.22,176.70 320.39,176.70 321.55,176.70 322.72,176.70 323.89,176.70 325.06,176.70 326.22,176.70 327.39,176.70 328.56,176.70 329.73,176.70 330.89,176.70 332.06,176.70 333.23,176.70 334.40,176.70 335.56,176.70 336.73,176.70 337.90,176.70 339.07,176.70 340.23,176.70 341.40,176.70 342.57,176.70 343.74,176.70 344.90,176.70 346.07,176.70 347.24,176.65 348.39,176.56 349.53,176.29 350.60,175.90 351.60,175.39 352.57,174.71 353.44,173.92 354.16,173.08 354.72,172.20 355.21,171.20 355.63,170.13 356.02,169.02 356.41,167.88 356.81,166.76 357.24,165.67 357.70,164.60 358.18,163.52 358.66,162.45 359.16,161.37 359.65,160.28 360.14,159.20 360.62,158.10 361.09,157.01 361.53,155.91 361.95,154.80 362.35,153.69 362.73,152.57 363.10,151.45 363.46,150.33 363.79,149.20 364.12,148.07 364.43,146.93 364.73,145.80 365.01,144.66 365.29,143.52 365.56,142.38 365.83,141.23 366.09,140.09 366.35,138.95 366.60,137.81 366.86,136.66 367.11,135.52 367.37,134.38 367.62,133.24 367.88,132.10 368.12,130.96 368.36,129.82 368.60,128.68 368.83,127.53 369.06,126.39 369.29,125.24 369.52,124.10 369.75,122.95 369.97,121.80 370.20,120.66 370.43,119.51 370.67,118.37 370.91,117.23 371.15,116.09 371.40,114.95 371.65,113.81 371.91,112.67 372.18,111.54 372.46,110.40 372.75,109.27 373.05,108.14 373.36,107.02 373.67,105.89 373.98,104.77 374.29,103.64 374.60,102.51 374.91,101.39 375.21,100.26 375.51,99.13 375.80,98.00 376.08,96.87 376.35,95.73 376.62,94.60 376.88,93.46 377.13,92.32 377.38,91.18 377.63,90.04 377.87,88.89 378.12,87.75 378.37,86.61 378.62,85.47 378.88,84.33 379.14,83.20 379.40,82.06 379.68,80.92 379.95,79.79 380.24,78.66 380.52,77.53 380.80,76.39 381.09,75.26 381.38,74.13 381.67,73.00 381.96,71.87 382.26,70.74 382.55,69.61 382.84,68.48 383.13,67.35 383.42,66.22 383.70,65.08 383.99,63.95 384.27,62.82 384.55,61.68 384.83,60.55 385.10,59.42 385.38,58.28 385.66,57.15 385.94,56.01 386.23,54.88 386.52,53.75 386.81,52.62 387.11,51.49 387.42,50.37 387.73,49.24 388.04,48.12 388.36,47.00 388.69,45.87 389.02,44.75 389.35,43.63 389.69,42.52 390.04,41.40 390.40,40.29 390.76,39.18 391.13,38.07 391.51,36.97 391.90,35.87 392.31,34.78 392.74,33.70 393.17,32.61 393.62,31.53 394.06,30.45 394.51,29.37 394.96,28.28 395.40,27.20 395.82,26.10 396.23,25.00 396.65,23.89 397.07,22.79 397.52,21.70 398.00,20.63 398.53,19.56 399.09,18.44 399.71,17.33 400.38,16.31 401.13,15.46 402.02,14.75 403.10,14.07 404.26,13.57 405.37,13.40 406.49,13.67 407.62,14.26 408.66,15.01 409.51,15.77 410.24,16.64 410.88,17.66 411.48,18.77 412.05,19.88 412.61,20.94 413.15,21.99 413.67,23.04 414.18,24.10 414.67,25.17 415.16,26.23 415.65,27.30 416.13,28.36 416.61,29.43 417.08,30.50 417.55,31.57 418.02,32.64 418.49,33.70 418.97,34.77 419.44,35.84 419.91,36.91 420.39,37.97 420.86,39.04 421.35,40.10 421.84,41.16 422.34,42.21 422.86,43.26 423.38,44.30 423.91,45.34 424.44,46.39 424.96,47.43 425.48,48.47 425.99,49.53 426.50,50.58 427.00,51.63 427.52,52.68 428.05,53.72 428.59,54.75 429.15,55.78 429.72,56.80 430.30,57.81 430.90,58.82 431.51,59.81 432.12,60.80 432.75,61.79 433.40,62.77 434.08,63.72 434.80,64.62 435.56,65.53 436.37,66.42 437.23,67.22 438.15,67.85 439.21,68.46 440.34,68.98 441.44,69.28 442.46,69.16 443.49,68.51 444.41,67.60 445.15,66.71 445.75,65.77 446.28,64.73 446.75,63.62 447.18,62.49 447.58,61.37 447.94,60.27 448.27,59.16 448.58,58.04 448.88,56.90 449.16,55.77 449.43,54.63 449.70,53.48 449.98,52.35 450.27,51.21 450.57,50.08 450.86,48.95 451.15,47.82 451.44,46.69 451.73,45.56 452.02,44.43 452.31,43.29 452.60,42.16 452.90,41.03 453.19,39.89 453.49,38.76 453.77,37.62 454.04,36.47 454.32,35.32 454.59,34.17 454.86,33.01 455.14,31.86 455.43,30.71 455.74,29.56 456.06,28.42 456.40,27.28 456.77,26.15 457.17,25.00 457.59,23.79 458.05,22.55 458.55,21.32 459.11,20.13 459.73,19.00 460.41,17.98 461.29,16.89 462.33,15.75 463.46,14.83 464.56,14.38 465.69,14.56 466.78,15.22 467.71,16.09 468.54,17.25 469.30,18.47 470.03,19.67 470.71,20.87 471.36,22.07 471.99,23.25 472.62,24.40 473.26,25.51 473.88,26.60 474.50,27.67 475.10,28.72 475.69,29.77 476.24,30.82 476.77,31.88 477.28,32.94 477.78,34.00 478.26,35.08 478.74,36.15 479.21,37.22 479.69,38.28 480.18,39.35 480.66,40.41 481.13,41.48 481.61,42.55 482.09,43.61 482.56,44.68 483.04,45.74 483.53,46.80 484.01,47.87 484.50,48.93 484.98,49.99 485.47,51.05 485.97,52.11 486.48,53.16 487.00,54.20 487.52,55.25 488.05,56.29 488.59,57.33 489.15,58.36 489.72,59.37 490.32,60.37 490.94,61.36 491.59,62.34 492.27,63.31 492.98,64.24 493.73,65.12 494.53,65.96 495.39,66.80 496.30,67.57 497.27,68.19 498.31,68.66 499.44,69.07 500.59,69.20 501.74,69.09 502.91,68.85 504.05,68.56 505.15,68.22 506.21,67.73 507.24,67.14 508.23,66.52 509.16,65.84 510.06,65.09 510.94,64.30 511.81,63.51 512.66,62.72 513.50,61.90 514.32,61.07 515.11,60.21 515.85,59.32 516.57,58.40 517.27,57.46 517.95,56.50 518.61,55.54 519.25,54.57 519.88,53.58 520.49,52.59 521.09,51.58 521.68,50.58 522.26,49.56 522.84,48.55 523.40,47.53 523.96,46.50 524.51,45.47 525.05,44.43 525.59,43.40 526.13,42.36 526.67,41.33 527.20,40.29 527.72,39.25 528.25,38.20 528.77,37.16 529.29,36.11 529.82,35.07 530.36,34.03 530.90,32.99 531.42,31.95 531.92,30.89 532.37,29.82 532.78,28.74 533.17,27.64 533.53,26.53 533.89,25.41 534.24,24.29 534.60,23.18 534.96,22.07 535.32,20.96 535.67,19.85 536.02,18.73 536.36,17.62 536.70,16.50" fill="none" stroke="#0072BD" stroke-width="0.85" stroke-linejoin="round" />
<polyline points="318.40,176.70 319.57,176.70 320.73,176.70 321.90,176.70 323.07,176.70 324.24,176.70 325.40,176.70 326.57,176.70 327.74,176.70 328.91,176.70 330.07,176.70 331.24,176.70 332.41,176.70 333.58,176.70 334.74,176.70 335.91,176.70 337.08,176.70 338.25,176.70 339.41,176.70 340.58,176.70 341.75,176.70 342.92,176.70 344.08,176.70 345.25,176.70 346.42,176.70 347.59,176.65 348.75,176.56 349.90,176.29 350.99,175.90 352.03,175.39 353.04,174.71 353.96,173.92 354.73,173.08 355.35,172.20 355.89,171.20 356.38,170.13 356.83,169.02 357.26,167.88 357.69,166.76 358.14,165.67 358.60,164.60 359.06,163.52 359.52,162.45 359.98,161.37 360.42,160.28 360.86,159.20 361.27,158.10 361.67,157.01 362.04,155.91 362.39,154.80 362.72,153.69 363.04,152.57 363.35,151.45 363.66,150.33 363.95,149.20 364.24,148.07 364.52,146.93 364.80,145.80 365.06,144.66 365.33,143.52 365.59,142.38 365.85,141.23 366.10,140.09 366.36,138.95 366.61,137.81 366.86,136.66 367.11,135.52 367.37,134.38 367.63,133.24 367.88,132.10 368.12,130.96 368.36,129.82 368.60,128.68 368.83,127.53 369.06,126.39 369.29,125.24 369.52,124.10 369.75,122.95 369.97,121.80 370.20,120.66 370.43,119.51 370.67,118.37 370.91,117.23 371.15,116.09 371.40,114.95 371.65,113.81 371.91,112.67 372.18,111.54 372.46,110.40 372.75,109.27 373.05,108.14 373.36,107.02 373.67,105.89 373.98,104.77 374.29,103.64 374.60,102.51 374.91,101.39 375.21,100.26 375.51,99.13 375.80,98.00 376.08,96.87 376.35,95.73 376.62,94.60 376.88,93.46 377.13,92.32 377.38,91.18 377.63,90.04 377.87,88.89 378.12,87.75 378.37,86.61 378.62,85.47 378.88,84.33 379.14,83.20 379.40,82.06 379.68,80.92 379.95,79.79 380.24,78.66 380.52,77.53 380.80,76.39 381.09,75.26 381.38,74.13 381.67,73.00 381.96,71.87 382.26,70.74 382.55,69.61 382.84,68.48 383.13,67.35 383.42,66.22 383.70,65.08 383.99,63.95 384.27,62.82 384.55,61.68 384.83,60.55 385.10,59.42 385.38,58.28 385.66,57.15 385.94,56.01 386.23,54.88 386.52,53.75 386.81,52.62 387.11,51.49 387.42,50.37 387.73,49.24 388.04,48.12 388.36,47.00 388.69,45.87 389.02,44.75 389.35,43.63 389.69,42.52 390.04,41.40 390.40,40.29 390.76,39.18 391.13,38.07 391.51,36.97 391.90,35.87 392.31,34.78 392.74,33.70 393.17,32.61 393.62,31.53 394.06,30.45 394.51,29.37 394.96,28.29 395.40,27.21 395.82,26.12 396.23,25.02 396.65,23.92 397.07,22.83 397.52,21.75 398.00,20.70 398.53,19.66 399.09,18.56 399.71,17.49 400.38,16.52 401.13,15.73 402.02,15.10 403.10,14.50 404.26,14.06 405.37,13.90 406.49,14.13 407.62,14.64 408.66,15.31 409.51,15.99 410.24,16.81 410.88,17.79 411.48,18.86 412.05,19.95 412.61,20.99 413.15,22.02 413.67,23.06 414.18,24.12 414.67,25.18 415.16,26.24 415.65,27.30 416.13,28.36 416.61,29.43 417.08,30.50 417.55,31.57 418.02,32.64 418.49,33.71 418.97,34.77 419.44,35.84 419.91,36.91 420.39,37.97 420.86,39.04 421.35,40.10 421.84,41.16 422.34,42.21 422.86,43.26 423.38,44.30 423.91,45.34 424.44,46.39 424.96,47.43 425.48,48.47 425.99,49.53 426.50,50.58 427.00,51.63 427.52,52.68 428.05,53.72 428.59,54.75 429.15,55.78 429.72,56.80 430.30,57.81 430.90,58.82 431.51,59.81 432.12,60.80 432.75,61.79 433.40,62.77 434.08,63.72 434.80,64.62 435.56,65.53 436.37,66.42 437.23,67.22 438.15,67.85 439.21,68.46 440.34,68.98 441.44,69.28 442.46,69.16 443.49,68.51 444.41,67.60 445.15,66.71 445.75,65.77 446.28,64.73 446.75,63.62 447.18,62.49 447.58,61.37 447.94,60.27 448.27,59.16 448.58,58.04 448.88,56.90 449.16,55.77 449.43,54.63 449.70,53.48 449.98,52.35 450.27,51.22 450.57,50.09 450.86,48.96 451.15,47.83 451.44,46.69 451.73,45.56 452.02,44.43 452.31,43.30 452.60,42.17 452.90,41.04 453.19,39.91 453.49,38.78 453.77,37.65 454.04,36.50 454.32,35.36 454.59,34.22 454.86,33.07 455.14,31.94 455.43,30.80 455.74,29.68 456.06,28.56 456.40,27.45 456.77,26.36 457.17,25.26 457.59,24.12 458.05,22.97 458.55,21.85 459.11,20.80 459.73,19.87 460.41,19.09 461.29,18.33 462.33,17.62 463.46,17.09 464.56,16.90 465.69,17.16 466.78,17.68 467.71,18.31 468.54,19.16 469.30,20.08 470.03,20.99 470.71,21.93 471.36,22.91 471.99,23.90 472.62,24.88 473.26,25.86 473.88,26.85 474.50,27.84 475.10,28.85 475.69,29.86 476.24,30.88 476.77,31.92 477.28,32.96 477.78,34.02 478.26,35.09 478.74,36.16 479.21,37.22 479.69,38.29 480.18,39.35 480.66,40.41 481.13,41.48 481.61,42.55 482.09,43.61 482.56,44.68 483.04,45.74 483.53,46.80 484.01,47.87 484.50,48.93 484.98,49.99 485.47,51.05 485.97,52.11 486.48,53.16 487.00,54.20 487.52,55.25 488.05,56.29 488.59,57.33 489.15,58.36 489.72,59.37 490.32,60.37 490.94,61.36 491.59,62.34 492.27,63.31 492.98,64.24 493.73,65.12 494.53,65.96 495.39,66.80 496.30,67.57 497.27,68.19 498.31,68.66 499.44,69.07 500.59,69.20 501.74,69.09 502.91,68.85 504.05,68.56 505.15,68.22 506.21,67.73 507.24,67.14 508.23,66.52 509.16,65.84 510.06,65.09 510.94,64.30 511.81,63.51 512.66,62.72 513.50,61.90 514.32,61.07 515.11,60.21 515.85,59.32 516.57,58.40 517.27,57.46 517.95,56.50 518.61,55.54 519.25,54.57 519.88,53.58 520.49,52.59 521.09,51.58 521.68,50.58 522.26,49.56 522.84,48.55 523.40,47.53 523.96,46.50 524.51,45.47 525.05,44.43 525.59,43.40 526.13,42.36 526.67,41.33 527.20,40.29 527.72,39.25 528.25,38.20 528.77,37.16 529.29,36.11 529.82,35.07 530.36,34.03 530.90,32.99 531.42,31.95 531.92,30.89 532.37,29.82 532.78,28.74 533.17,27.64 533.53,26.53 533.89,25.41 534.24,24.29 534.60,23.18 534.96,22.07 535.32,20.96 535.67,19.85 536.02,18.73 536.36,17.62 536.70,16.50" fill="none" stroke="#D95319" stroke-width="0.85" stroke-linejoin="round" />
<polyline points="318.40,176.70 319.57,176.70 320.73,176.70 321.90,176.70 323.07,176.70 324.24,176.70 325.40,176.70 326.57,176.70 327.74,176.70 328.91,176.70 330.07,176.70 331.24,176.70 332.41,176.70 333.58,176.70 334.74,176.70 335.91,176.70 337.08,176.70 338.25,176.70 339.41,176.70 340.58,176.70 341.75,176.70 342.92,176.70 344.08,176.70 345.25,176.70 346.42,176.70 347.59,176.65 348.75,176.56 349.90,176.29 350.99,175.90 352.03,175.39 353.04,174.71 353.96,173.92 354.73,173.08 355.35,172.20 355.89,171.20 356.38,170.13 356.83,169.02 357.26,167.88 357.69,166.76 358.14,165.67 358.60,164.60 359.06,163.52 359.52,162.45 359.98,161.37 360.42,160.28 360.86,159.20 361.27,158.10 361.67,157.01 362.04,155.91 362.39,154.80 362.72,153.69 363.04,152.57 363.35,151.45 363.66,150.33 363.95,149.20 364.24,148.07 364.52,146.93 364.80,145.80 365.06,144.66 365.33,143.52 365.59,142.38 365.85,141.23 366.10,140.09 366.36,138.95 366.61,137.81 366.86,136.66 367.11,135.52 367.37,134.38 367.63,133.24 367.88,132.10 368.12,130.96 368.36,129.82 368.60,128.68 368.83,127.53 369.06,126.39 369.29,125.24 369.52,124.10 369.75,122.95 369.97,121.80 370.20,120.66 370.43,119.51 370.67,118.37 370.91,117.23 371.15,116.09 371.40,114.95 371.65,113.81 371.91,112.67 372.18,111.54 372.46,110.40 372.75,109.27 373.05,108.14 373.36,107.02 373.67,105.89 373.98,104.77 374.29,103.64 374.60,102.51 374.91,101.39 375.21,100.26 375.51,99.13 375.80,98.00 376.08,96.87 376.35,95.73 376.62,94.60 376.88,93.46 377.13,92.32 377.38,91.18 377.63,90.04 377.87,88.89 378.12,87.75 378.37,86.61 378.62,85.47 378.88,84.33 379.14,83.20 379.40,82.06 379.68,80.92 379.95,79.79 380.24,78.66 380.52,77.53 380.80,76.39 381.09,75.26 381.38,74.13 381.67,73.00 381.96,71.87 382.26,70.74 382.55,69.61 382.84,68.48 383.13,67.35 383.42,66.22 383.70,65.08 383.99,63.95 384.27,62.82 384.55,61.68 384.83,60.55 385.10,59.42 385.38,58.28 385.66,57.15 385.94,56.01 386.23,54.88 386.52,53.75 386.81,52.62 387.11,51.49 387.42,50.37 387.73,49.24 388.04,48.12 388.36,47.00 388.69,45.87 389.02,44.75 389.35,43.63 389.69,42.52 390.04,41.40 390.40,40.29 390.76,39.18 391.13,38.07 391.51,36.97 391.90,35.87 392.31,34.78 392.74,33.70 393.17,32.61 393.62,31.53 394.06,30.45 394.51,29.37 394.96,28.28 395.40,27.20 395.82,26.10 396.23,25.00 396.65,23.89 397.07,22.79 397.52,21.70 398.00,20.63 398.53,19.56 399.09,18.44 399.71,17.33 400.38,16.31 401.13,15.46 402.02,14.75 403.10,14.07 404.26,13.57 405.37,13.40 406.49,13.67 407.62,14.26 408.66,15.01 409.51,15.77 410.24,16.64 410.88,17.66 411.48,18.77 412.05,19.88 412.61,20.94 413.15,21.99 413.67,23.04 414.18,24.10 414.67,25.17 415.16,26.23 415.65,27.30 416.13,28.36 416.61,29.43 417.08,30.50 417.55,31.57 418.02,32.64 418.49,33.70 418.97,34.77 419.44,35.84 419.91,36.91 420.39,37.97 420.86,39.04 421.35,40.10 421.84,41.16 422.34,42.21 422.86,43.26 423.38,44.30 423.91,45.34 424.44,46.39 424.96,47.43 425.48,48.47 425.99,49.53 426.50,50.58 427.00,51.63 427.52,52.68 428.05,53.72 428.59,54.75 429.15,55.78 429.72,56.80 430.30,57.81 430.90,58.82 431.51,59.81 432.12,60.80 432.75,61.79 433.40,62.77 434.08,63.72 434.80,64.62 435.56,65.53 436.37,66.42 437.23,67.22 438.15,67.85 439.21,68.46 440.34,68.98 441.44,69.28 442.46,69.16 443.49,68.51 444.41,67.60 445.15,66.71 445.75,65.77 446.28,64.73 446.75,63.62 447.18,62.49 447.58,61.37 447.94,60.27 448.27,59.16 448.58,58.04 448.88,56.90 449.16,55.77 449.43,54.63 449.70,53.48 449.98,52.35 450.27,51.21 450.57,50.08 450.86,48.95 451.15,47.82 451.44,46.69 451.73,45.56 452.02,44.43 452.31,43.29 452.60,42.16 452.90,41.03 453.19,39.89 453.49,38.76 453.77,37.62 454.04,36.47 454.32,35.32 454.59,34.17 454.86,33.01 455.14,31.86 455.43,30.71 455.74,29.56 456.06,28.42 456.40,27.28 456.77,26.15 457.17,25.00 457.59,23.79 458.05,22.55 458.55,21.32 459.11,20.13 459.73,19.00 460.41,17.98 461.29,16.89 462.33,15.75 463.46,14.83 464.56,14.38 465.69,14.56 466.78,15.22 467.71,16.09 468.54,17.25 469.30,18.47 470.03,19.67 470.71,20.87 471.36,22.07 471.99,23.25 472.62,24.40 473.26,25.51 473.88,26.60 474.50,27.67 475.10,28.72 475.69,29.77 476.24,30.82 476.77,31.88 477.28,32.94 477.78,34.00 478.26,35.08 478.74,36.15 479.21,37.22 479.69,38.28 480.18,39.35 480.66,40.41 481.13,41.48 481.61,42.55 482.09,43.61 482.56,44.68 483.04,45.74 483.53,46.80 484.01,47.87 484.50,48.93 484.98,49.99 485.47,51.05 485.97,52.11 486.48,53.16 487.00,54.20 487.52,55.25 488.05,56.29 488.59,57.33 489.15,58.36 489.72,59.37 490.32,60.37 490.94,61.36 491.59,62.34 492.27,63.31 492.98,64.24 493.73,65.12 494.53,65.96 495.39,66.80 496.30,67.57 497.27,68.19 498.31,68.66 499.44,69.07 500.59,69.20 501.74,69.09 502.91,68.85 504.05,68.56 505.15,68.22 506.21,67.73 507.24,67.14 508.23,66.52 509.16,65.84 510.06,65.09 510.94,64.30 511.81,63.51 512.66,62.72 513.50,61.90 514.32,61.07 515.11,60.21 515.85,59.32 516.57,58.40 517.27,57.46 517.95,56.50 518.61,55.54 519.25,54.57 519.88,53.58 520.49,52.59 521.09,51.58 521.68,50.58 522.26,49.56 522.84,48.55 523.40,47.53 523.96,46.50 524.51,45.47 525.05,44.43 525.59,43.40 526.13,42.36 526.67,41.33 527.20,40.29 527.72,39.25 528.25,38.20 528.77,37.16 529.29,36.11 529.82,35.07 530.36,34.03 530.90,32.99 531.42,31.95 531.92,30.89 532.37,29.82 532.78,28.74 533.17,27.64 533.53,26.53 533.89,25.41 534.24,24.29 534.60,23.18 534.96,22.07 535.32,20.96 535.67,19.85 536.02,18.73 536.36,17.62 536.70,16.50" fill="none" stroke="#222" stroke-width="0.8" stroke-dasharray="4 3.2" stroke-linejoin="round" />
<rect x="318.40" y="4.30" width="218.30" height="172.40" fill="none" stroke="#4a4a4a" stroke-width="0.7"/>
<line x1="318.40" y1="176.70" x2="318.40" y2="174.70" stroke="#4a4a4a" stroke-width="0.5"/>
<line x1="318.40" y1="4.30" x2="318.40" y2="6.30" stroke="#4a4a4a" stroke-width="0.5"/>
<text x="318.40" y="186.40" font-size="6.7" text-anchor="middle" fill="#444" stroke="#444" stroke-width="0.0" font-family="Liberation Sans, Arial, sans-serif" >0</text>
<line x1="354.78" y1="176.70" x2="354.78" y2="174.70" stroke="#4a4a4a" stroke-width="0.5"/>
<line x1="354.78" y1="4.30" x2="354.78" y2="6.30" stroke="#4a4a4a" stroke-width="0.5"/>
<text x="354.78" y="186.40" font-size="6.7" text-anchor="middle" fill="#444" stroke="#444" stroke-width="0.0" font-family="Liberation Sans, Arial, sans-serif" >0.5</text>
<line x1="391.17" y1="176.70" x2="391.17" y2="174.70" stroke="#4a4a4a" stroke-width="0.5"/>
<line x1="391.17" y1="4.30" x2="391.17" y2="6.30" stroke="#4a4a4a" stroke-width="0.5"/>
<text x="391.17" y="186.40" font-size="6.7" text-anchor="middle" fill="#444" stroke="#444" stroke-width="0.0" font-family="Liberation Sans, Arial, sans-serif" >1</text>
<line x1="427.55" y1="176.70" x2="427.55" y2="174.70" stroke="#4a4a4a" stroke-width="0.5"/>
<line x1="427.55" y1="4.30" x2="427.55" y2="6.30" stroke="#4a4a4a" stroke-width="0.5"/>
<text x="427.55" y="186.40" font-size="6.7" text-anchor="middle" fill="#444" stroke="#444" stroke-width="0.0" font-family="Liberation Sans, Arial, sans-serif" >1.5</text>
<line x1="463.93" y1="176.70" x2="463.93" y2="174.70" stroke="#4a4a4a" stroke-width="0.5"/>
<line x1="463.93" y1="4.30" x2="463.93" y2="6.30" stroke="#4a4a4a" stroke-width="0.5"/>
<text x="463.93" y="186.40" font-size="6.7" text-anchor="middle" fill="#444" stroke="#444" stroke-width="0.0" font-family="Liberation Sans, Arial, sans-serif" >2</text>
<line x1="500.32" y1="176.70" x2="500.32" y2="174.70" stroke="#4a4a4a" stroke-width="0.5"/>
<line x1="500.32" y1="4.30" x2="500.32" y2="6.30" stroke="#4a4a4a" stroke-width="0.5"/>
<text x="500.32" y="186.40" font-size="6.7" text-anchor="middle" fill="#444" stroke="#444" stroke-width="0.0" font-family="Liberation Sans, Arial, sans-serif" >2.5</text>
<line x1="536.70" y1="176.70" x2="536.70" y2="174.70" stroke="#4a4a4a" stroke-width="0.5"/>
<line x1="536.70" y1="4.30" x2="536.70" y2="6.30" stroke="#4a4a4a" stroke-width="0.5"/>
<text x="536.70" y="186.40" font-size="6.7" text-anchor="middle" fill="#444" stroke="#444" stroke-width="0.0" font-family="Liberation Sans, Arial, sans-serif" >3</text>
<line x1="318.40" y1="176.70" x2="320.40" y2="176.70" stroke="#4a4a4a" stroke-width="0.5"/>
<line x1="536.70" y1="176.70" x2="534.70" y2="176.70" stroke="#4a4a4a" stroke-width="0.5"/>
<text x="315.50" y="179.70" font-size="6.7" text-anchor="end" fill="#444" stroke="#444" stroke-width="0.0" font-family="Liberation Sans, Arial, sans-serif" >0</text>
<line x1="318.40" y1="155.15" x2="320.40" y2="155.15" stroke="#4a4a4a" stroke-width="0.5"/>
<line x1="536.70" y1="155.15" x2="534.70" y2="155.15" stroke="#4a4a4a" stroke-width="0.5"/>
<text x="315.50" y="158.15" font-size="6.7" text-anchor="end" fill="#444" stroke="#444" stroke-width="0.0" font-family="Liberation Sans, Arial, sans-serif" >200</text>
<line x1="318.40" y1="133.60" x2="320.40" y2="133.60" stroke="#4a4a4a" stroke-width="0.5"/>
<line x1="536.70" y1="133.60" x2="534.70" y2="133.60" stroke="#4a4a4a" stroke-width="0.5"/>
<text x="315.50" y="136.60" font-size="6.7" text-anchor="end" fill="#444" stroke="#444" stroke-width="0.0" font-family="Liberation Sans, Arial, sans-serif" >400</text>
<line x1="318.40" y1="112.05" x2="320.40" y2="112.05" stroke="#4a4a4a" stroke-width="0.5"/>
<line x1="536.70" y1="112.05" x2="534.70" y2="112.05" stroke="#4a4a4a" stroke-width="0.5"/>
<text x="315.50" y="115.05" font-size="6.7" text-anchor="end" fill="#444" stroke="#444" stroke-width="0.0" font-family="Liberation Sans, Arial, sans-serif" >600</text>
<line x1="318.40" y1="90.50" x2="320.40" y2="90.50" stroke="#4a4a4a" stroke-width="0.5"/>
<line x1="536.70" y1="90.50" x2="534.70" y2="90.50" stroke="#4a4a4a" stroke-width="0.5"/>
<text x="315.50" y="93.50" font-size="6.7" text-anchor="end" fill="#444" stroke="#444" stroke-width="0.0" font-family="Liberation Sans, Arial, sans-serif" >800</text>
<line x1="318.40" y1="68.95" x2="320.40" y2="68.95" stroke="#4a4a4a" stroke-width="0.5"/>
<line x1="536.70" y1="68.95" x2="534.70" y2="68.95" stroke="#4a4a4a" stroke-width="0.5"/>
<text x="315.50" y="71.95" font-size="6.7" text-anchor="end" fill="#444" stroke="#444" stroke-width="0.0" font-family="Liberation Sans, Arial, sans-serif" >1000</text>
<line x1="318.40" y1="47.40" x2="320.40" y2="47.40" stroke="#4a4a4a" stroke-width="0.5"/>
<line x1="536.70" y1="47.40" x2="534.70" y2="47.40" stroke="#4a4a4a" stroke-width="0.5"/>
<text x="315.50" y="50.40" font-size="6.7" text-anchor="end" fill="#444" stroke="#444" stroke-width="0.0" font-family="Liberation Sans, Arial, sans-serif" >1200</text>
<line x1="318.40" y1="25.85" x2="320.40" y2="25.85" stroke="#4a4a4a" stroke-width="0.5"/>
<line x1="536.70" y1="25.85" x2="534.70" y2="25.85" stroke="#4a4a4a" stroke-width="0.5"/>
<text x="315.50" y="28.85" font-size="6.7" text-anchor="end" fill="#444" stroke="#444" stroke-width="0.0" font-family="Liberation Sans, Arial, sans-serif" >1400</text>
<line x1="318.40" y1="4.30" x2="320.40" y2="4.30" stroke="#4a4a4a" stroke-width="0.5"/>
<line x1="536.70" y1="4.30" x2="534.70" y2="4.30" stroke="#4a4a4a" stroke-width="0.5"/>
<text x="315.50" y="7.30" font-size="6.7" text-anchor="end" fill="#444" stroke="#444" stroke-width="0.0" font-family="Liberation Sans, Arial, sans-serif" >1600</text>
<text x="427.55" y="196.60" font-size="7.5" text-anchor="middle" fill="#333" stroke="#333" stroke-width="0.06" font-family="Liberation Sans, Arial, sans-serif" >East [m]</text>
<text x="521.6" y="197.2" font-size="6.7" fill="#444" font-family="Liberation Sans, Arial, sans-serif">× 10<tspan font-size="4.8" dy="-2.8">4</tspan></text>
<text transform="translate(297,90.50) rotate(-90)" font-size="7.5" text-anchor="middle" fill="#333" stroke="#333" stroke-width="0.06" font-family="Liberation Sans, Arial, sans-serif">North [m]</text>
<rect x="464.50" y="106.00" width="73.10" height="25.50" fill="#fff" stroke="#4a4a4a" stroke-width="0.6"/>
<line x1="466.70" y1="110.50" x2="486.40" y2="110.50" stroke="#0072BD" stroke-width="0.7"/>
<line x1="466.70" y1="118.50" x2="486.40" y2="118.50" stroke="#D95319" stroke-width="0.7"/>
<line x1="466.70" y1="127.50" x2="486.40" y2="127.50" stroke="#222" stroke-width="0.8" stroke-dasharray="5.2 2.3"/>
<text x="487.80" y="113.00" font-size="6.05" text-anchor="start" fill="#333" stroke="#333" stroke-width="0.06" font-family="Liberation Sans, Arial, sans-serif" >Modified model</text>
<text x="487.80" y="121.00" font-size="6.05" text-anchor="start" fill="#333" stroke="#333" stroke-width="0.06" font-family="Liberation Sans, Arial, sans-serif" >Classic model</text>
<text x="487.80" y="129.50" font-size="6.05" text-anchor="start" fill="#333" stroke="#333" stroke-width="0.06" font-family="Liberation Sans, Arial, sans-serif" >Desired trajectory</text>
<line x1="73.45" y1="240.20" x2="73.45" y2="418.40" stroke="#d4d4d4" stroke-width="0.5"/>
<line x1="111.20" y1="240.20" x2="111.20" y2="418.40" stroke="#d4d4d4" stroke-width="0.5"/>
<line x1="148.95" y1="240.20" x2="148.95" y2="418.40" stroke="#d4d4d4" stroke-width="0.5"/>
<line x1="186.70" y1="240.20" x2="186.70" y2="418.40" stroke="#d4d4d4" stroke-width="0.5"/>
<line x1="224.45" y1="240.20" x2="224.45" y2="418.40" stroke="#d4d4d4" stroke-width="0.5"/>
<line x1="35.70" y1="400.58" x2="262.20" y2="400.58" stroke="#d4d4d4" stroke-width="0.5"/>
<line x1="35.70" y1="382.76" x2="262.20" y2="382.76" stroke="#d4d4d4" stroke-width="0.5"/>
<line x1="35.70" y1="364.94" x2="262.20" y2="364.94" stroke="#d4d4d4" stroke-width="0.5"/>
<line x1="35.70" y1="347.12" x2="262.20" y2="347.12" stroke="#d4d4d4" stroke-width="0.5"/>
<line x1="35.70" y1="329.30" x2="262.20" y2="329.30" stroke="#d4d4d4" stroke-width="0.5"/>
<line x1="35.70" y1="311.48" x2="262.20" y2="311.48" stroke="#d4d4d4" stroke-width="0.5"/>
<line x1="35.70" y1="293.66" x2="262.20" y2="293.66" stroke="#d4d4d4" stroke-width="0.5"/>
<line x1="35.70" y1="275.84" x2="262.20" y2="275.84" stroke="#d4d4d4" stroke-width="0.5"/>
<line x1="35.70" y1="258.02" x2="262.20" y2="258.02" stroke="#d4d4d4" stroke-width="0.5"/>
<polyline points="35.70,401.50 36.08,400.60 36.47,399.71 36.86,398.81 37.25,397.92 37.65,397.03 38.04,396.14 38.44,395.25 38.84,394.36 39.25,393.47 39.65,392.59 40.06,391.70 40.47,390.82 40.88,389.93 41.29,389.05 41.71,388.17 42.13,387.29 42.55,386.41 42.97,385.53 43.40,384.66 43.83,383.78 44.26,382.91 44.70,382.03 45.13,381.16 45.57,380.29 46.01,379.42 46.45,378.55 46.90,377.68 47.34,376.82 47.79,375.95 48.23,375.08 48.68,374.22 49.14,373.36 49.59,372.49 50.05,371.63 50.50,370.77 50.96,369.91 51.43,369.05 51.89,368.19 52.35,367.34 52.82,366.48 53.29,365.63 53.75,364.77 54.23,363.92 54.70,363.07 55.18,362.22 55.65,361.37 56.13,360.52 56.61,359.67 57.09,358.82 57.57,357.97 58.06,357.13 58.54,356.28 59.02,355.43 59.51,354.59 59.99,353.74 60.48,352.89 60.96,352.05 61.44,351.20 61.93,350.36 62.42,349.51 62.91,348.67 63.40,347.83 63.89,346.99 64.39,346.15 64.89,345.31 65.40,344.48 65.90,343.65 66.42,342.82 66.93,341.99 67.45,341.16 67.96,340.34 68.48,339.51 69.00,338.69 69.52,337.86 70.04,337.04 70.57,336.21 71.09,335.39 71.61,334.57 72.13,333.74 72.66,332.92 73.18,332.10 73.71,331.28 74.25,330.47 74.78,329.65 75.26,328.81 75.72,327.95 76.15,327.08 76.58,326.20 76.99,325.32 77.39,324.43 77.79,323.53 78.18,322.64 78.58,321.75 78.99,320.86 79.41,319.98 79.83,319.10 80.25,318.22 80.67,317.34 81.09,316.47 81.52,315.59 81.94,314.71 82.37,313.83 82.80,312.96 83.22,312.08 83.65,311.20 84.07,310.33 84.50,309.45 84.92,308.57 85.35,307.70 85.78,306.82 86.21,305.94 86.63,305.07 87.06,304.19 87.50,303.32 87.93,302.44 88.36,301.57 88.80,300.70 89.23,299.83 89.66,298.95 90.10,298.08 90.54,297.21 90.98,296.34 91.42,295.47 91.87,294.61 92.32,293.74 92.78,292.88 93.23,292.02 93.69,291.16 94.16,290.30 94.63,289.45 95.10,288.59 95.57,287.74 96.05,286.89 96.53,286.04 97.02,285.20 97.51,284.36 98.00,283.52 98.50,282.68 99.01,281.85 99.52,281.02 100.03,280.19 100.55,279.36 101.07,278.53 101.59,277.71 102.12,276.89 102.65,276.08 103.19,275.26 103.73,274.45 104.27,273.64 104.82,272.84 105.38,272.03 105.94,271.24 106.51,270.45 107.10,269.67 107.69,268.90 108.29,268.13 108.91,267.37 109.53,266.62 110.16,265.87 110.80,265.14 111.45,264.41 112.10,263.69 112.77,262.97 113.45,262.27 114.14,261.58 114.85,260.91 115.58,260.28 116.33,259.65 117.10,259.04 117.89,258.46 118.69,257.91 119.52,257.41 120.37,256.91 121.25,256.47 122.16,256.16 123.11,255.91 124.08,255.74 125.04,255.72 125.98,255.89 126.91,256.20 127.84,256.56 128.78,256.87 129.72,257.13 130.67,257.40 131.63,257.58 132.59,257.63 133.56,257.66 134.54,257.68 135.52,257.70 136.49,257.70 137.47,257.70 138.44,257.70 139.42,257.70 140.39,257.70 141.37,257.70 142.34,257.70 143.32,257.70 144.29,257.70 145.27,257.70 146.24,257.70 147.22,257.70 148.19,257.70 149.17,257.70 150.14,257.70 151.12,257.70 152.09,257.70 153.07,257.70 154.04,257.70 155.02,257.70 156.00,257.70 156.97,257.70 157.95,257.70 158.92,257.70 159.90,257.70 160.87,257.70 161.85,257.70 162.82,257.70 163.79,257.70 164.77,257.73 165.77,257.84 166.73,258.00 167.61,258.22 168.45,258.67 169.26,259.28 170.02,259.99 170.71,260.70 171.34,261.40 171.93,262.16 172.48,262.97 173.01,263.81 173.52,264.66 174.01,265.52 174.50,266.37 174.97,267.22 175.44,268.07 175.89,268.94 176.33,269.81 176.76,270.69 177.18,271.57 177.59,272.46 177.98,273.35 178.36,274.24 178.73,275.15 179.08,276.05 179.43,276.96 179.77,277.88 180.10,278.80 180.43,279.72 180.75,280.64 181.06,281.56 181.35,282.49 181.63,283.43 181.92,284.36 182.20,285.29 182.50,286.22 182.80,287.15 183.13,288.06 183.46,288.99 183.80,289.91 184.15,290.83 184.53,291.73 184.94,292.61 185.40,293.44 185.95,294.24 186.56,295.00 187.19,295.76 187.79,296.54 188.34,297.34 188.87,298.16 189.40,298.98 189.92,299.80 190.44,300.63 190.97,301.45 191.51,302.26 192.06,303.06 192.62,303.86 193.18,304.66 193.75,305.45 194.32,306.24 194.90,307.03 195.47,307.81 196.05,308.60 196.63,309.39 197.21,310.17 197.79,310.95 198.38,311.73 198.96,312.51 199.55,313.28 200.14,314.06 200.73,314.84 201.31,315.62 201.90,316.40 202.49,317.18 203.07,317.95 203.66,318.73 204.25,319.51 204.84,320.29 205.42,321.07 206.00,321.85 206.58,322.64 207.15,323.42 207.72,324.21 208.29,325.01 208.86,325.80 209.42,326.59 209.99,327.39 210.55,328.18 211.11,328.98 211.68,329.77 212.25,330.57 212.81,331.36 213.38,332.15 213.94,332.95 214.51,333.74 215.07,334.54 215.64,335.33 216.20,336.13 216.77,336.92 217.33,337.72 217.89,338.51 218.46,339.31 219.02,340.10 219.59,340.90 220.15,341.69 220.71,342.49 221.28,343.28 221.84,344.08 222.40,344.88 222.96,345.67 223.53,346.47 224.09,347.26 224.65,348.06 225.22,348.86 225.78,349.65 226.34,350.45 226.90,351.24 227.47,352.04 228.03,352.84 228.59,353.63 229.15,354.43 229.72,355.22 230.28,356.02 230.84,356.82 231.40,357.61 231.97,358.41 232.53,359.20 233.09,360.00 233.65,360.80 234.22,361.59 234.78,362.39 235.34,363.19 235.90,363.98 236.46,364.78 237.03,365.58 237.59,366.37 238.15,367.17 238.71,367.97 239.27,368.76 239.83,369.56 240.39,370.36 240.95,371.16 241.51,371.95 242.07,372.75 242.64,373.55 243.20,374.35 243.76,375.14 244.32,375.94 244.88,376.74 245.44,377.54 246.00,378.34 246.56,379.13 247.12,379.93 247.68,380.73 248.24,381.53 248.80,382.33 249.35,383.12 249.91,383.92 250.47,384.72 251.03,385.52 251.59,386.32 252.15,387.12 252.71,387.91 253.27,388.71 253.83,389.51 254.39,390.31 254.95,391.11 255.50,391.91 256.06,392.71 256.62,393.51 257.18,394.31 257.74,395.10 258.30,395.90 258.85,396.70 259.41,397.50 259.97,398.30 260.53,399.10 261.09,399.90 261.64,400.70 262.20,401.50" fill="none" stroke="#0072BD" stroke-width="0.85" stroke-linejoin="round" />
<polyline points="35.70,401.50 36.09,400.60 36.47,399.70 36.87,398.80 37.26,397.91 37.65,397.01 38.05,396.12 38.45,395.23 38.85,394.33 39.26,393.44 39.67,392.55 40.07,391.66 40.49,390.78 40.90,389.89 41.31,389.00 41.73,388.12 42.15,387.24 42.58,386.36 43.00,385.47 43.43,384.60 43.86,383.72 44.30,382.84 44.73,381.96 45.17,381.09 45.61,380.21 46.05,379.34 46.50,378.47 46.94,377.60 47.39,376.73 47.83,375.86 48.28,374.99 48.74,374.12 49.19,373.25 49.65,372.39 50.10,371.52 50.56,370.66 51.03,369.80 51.49,368.93 51.95,368.07 52.42,367.21 52.89,366.35 53.36,365.49 53.83,364.64 54.30,363.78 54.78,362.93 55.26,362.07 55.73,361.22 56.22,360.37 56.70,359.52 57.18,358.66 57.66,357.81 58.15,356.96 58.63,356.11 59.12,355.26 59.61,354.42 60.09,353.57 60.58,352.72 61.06,351.87 61.55,351.02 62.04,350.17 62.53,349.32 63.02,348.48 63.51,347.63 64.01,346.79 64.51,345.95 65.01,345.11 65.52,344.27 66.03,343.44 66.55,342.61 67.06,341.78 67.58,340.95 68.10,340.12 68.62,339.29 69.14,338.46 69.67,337.63 70.19,336.81 70.71,335.98 71.24,335.15 71.76,334.33 72.29,333.50 72.81,332.68 73.34,331.85 73.87,331.03 74.41,330.21 74.93,329.39 75.41,328.54 75.86,327.67 76.29,326.80 76.71,325.91 77.12,325.02 77.52,324.13 77.92,323.23 78.32,322.33 78.72,321.44 79.13,320.55 79.55,319.67 79.98,318.79 80.40,317.90 80.83,317.02 81.25,316.14 81.68,315.26 82.10,314.38 82.53,313.50 82.96,312.62 83.39,311.74 83.81,310.86 84.24,309.98 84.67,309.10 85.10,308.22 85.53,307.34 85.95,306.46 86.38,305.58 86.81,304.70 87.25,303.82 87.68,302.95 88.11,302.07 88.55,301.19 88.98,300.32 89.42,299.44 89.86,298.56 90.30,297.69 90.74,296.82 91.18,295.94 91.63,295.07 92.08,294.21 92.53,293.34 92.99,292.48 93.45,291.61 93.92,290.75 94.38,289.89 94.85,289.03 95.33,288.18 95.81,287.32 96.29,286.47 96.77,285.62 97.26,284.77 97.76,283.93 98.26,283.09 98.76,282.25 99.27,281.42 99.78,280.58 100.30,279.75 100.82,278.92 101.35,278.10 101.88,277.27 102.41,276.45 102.95,275.63 103.49,274.82 104.03,274.00 104.58,273.19 105.13,272.39 105.70,271.58 106.27,270.79 106.85,270.00 107.44,269.23 108.04,268.45 108.65,267.69 109.27,266.93 109.90,266.18 110.54,265.44 111.18,264.71 111.84,263.98 112.50,263.25 113.18,262.54 113.87,261.84 114.57,261.17 115.30,260.52 116.04,259.88 116.81,259.26 117.59,258.67 118.40,258.11 119.22,257.59 120.06,257.08 120.94,256.61 121.84,256.25 122.77,255.99 123.75,255.79 124.72,255.70 125.66,255.81 126.60,256.09 127.54,256.44 128.48,256.78 129.42,257.04 130.37,257.32 131.33,257.54 132.29,257.62 133.26,257.65 134.24,257.68 135.23,257.69 136.21,257.70 137.19,257.70 138.16,257.70 139.14,257.70 140.12,257.70 141.10,257.70 142.08,257.70 143.06,257.70 144.03,257.70 145.01,257.70 145.99,257.70 146.97,257.70 147.95,257.70 148.93,257.70 149.91,257.70 150.88,257.70 151.86,257.70 152.84,257.70 153.82,257.70 154.80,257.70 155.78,257.70 156.76,257.70 157.74,257.70 158.72,257.70 159.70,257.70 160.68,257.70 161.65,257.70 162.63,257.70 163.61,257.70 164.59,257.72 165.59,257.81 166.56,257.97 167.46,258.17 168.31,258.58 169.13,259.17 169.90,259.87 170.60,260.59 171.24,261.29 171.84,262.04 172.40,262.85 172.94,263.69 173.45,264.54 173.94,265.41 174.43,266.26 174.91,267.11 175.38,267.96 175.84,268.83 176.28,269.71 176.71,270.59 177.13,271.47 177.54,272.36 177.94,273.26 178.32,274.15 178.69,275.06 179.05,275.97 179.40,276.88 179.74,277.80 180.07,278.72 180.40,279.65 180.72,280.57 181.03,281.50 181.33,282.43 181.62,283.37 181.90,284.31 182.19,285.24 182.48,286.18 182.79,287.10 183.12,288.02 183.48,288.93 183.87,289.83 184.26,290.73 184.64,291.63 185.00,292.54 185.32,293.46 185.61,294.40 185.87,295.34 186.12,296.29 186.38,297.23 186.63,298.18 186.91,299.12 187.21,300.05 187.51,300.98 187.82,301.92 188.13,302.85 188.46,303.77 188.81,304.69 189.17,305.59 189.55,306.49 189.96,307.37 190.39,308.24 190.85,309.11 191.34,309.97 191.85,310.82 192.37,311.65 192.90,312.46 193.45,313.26 194.02,314.07 194.61,314.86 195.22,315.65 195.85,316.41 196.51,317.14 197.19,317.83 197.90,318.47 198.65,319.06 199.45,319.61 200.28,320.14 201.13,320.66 201.97,321.17 202.81,321.70 203.62,322.25 204.45,322.78 205.27,323.33 206.07,323.89 206.82,324.50 207.51,325.18 208.18,325.90 208.84,326.63 209.52,327.33 210.21,328.03 210.89,328.74 211.52,329.48 212.12,330.25 212.70,331.03 213.26,331.83 213.81,332.64 214.36,333.46 214.91,334.27 215.47,335.08 216.03,335.88 216.60,336.68 217.16,337.48 217.73,338.28 218.29,339.07 218.86,339.87 219.43,340.67 219.99,341.47 220.56,342.27 221.12,343.07 221.69,343.87 222.25,344.66 222.82,345.46 223.38,346.26 223.95,347.06 224.51,347.86 225.08,348.66 225.64,349.46 226.21,350.26 226.77,351.06 227.34,351.86 227.90,352.65 228.47,353.45 229.03,354.25 229.60,355.05 230.16,355.85 230.72,356.65 231.29,357.45 231.85,358.25 232.42,359.05 232.98,359.85 233.55,360.64 234.11,361.44 234.68,362.24 235.24,363.04 235.80,363.84 236.37,364.64 236.93,365.44 237.50,366.24 238.06,367.04 238.62,367.84 239.19,368.64 239.75,369.44 240.31,370.24 240.87,371.04 241.44,371.84 242.00,372.64 242.56,373.44 243.12,374.24 243.69,375.05 244.25,375.85 244.81,376.65 245.37,377.45 245.94,378.25 246.50,379.05 247.06,379.85 247.62,380.65 248.18,381.45 248.75,382.25 249.31,383.05 249.87,383.86 250.43,384.66 250.99,385.46 251.55,386.26 252.11,387.06 252.67,387.86 253.24,388.67 253.80,389.47 254.36,390.27 254.92,391.07 255.48,391.87 256.04,392.67 256.60,393.48 257.16,394.28 257.72,395.08 258.28,395.88 258.84,396.68 259.40,397.49 259.96,398.29 260.52,399.09 261.08,399.89 261.64,400.70 262.20,401.50" fill="none" stroke="#D95319" stroke-width="0.85" stroke-linejoin="round" />
<polyline points="35.70,401.50 36.12,400.63 36.54,399.76 36.96,398.89 37.38,398.02 37.80,397.15 38.22,396.28 38.64,395.41 39.07,394.54 39.49,393.67 39.92,392.80 40.35,391.94 40.77,391.07 41.20,390.20 41.63,389.34 42.06,388.47 42.49,387.61 42.92,386.74 43.35,385.88 43.78,385.01 44.22,384.15 44.65,383.28 45.09,382.42 45.52,381.56 45.96,380.70 46.40,379.83 46.84,378.98 47.29,378.12 47.73,377.26 48.18,376.40 48.63,375.55 49.09,374.70 49.54,373.84 50.00,372.99 50.45,372.14 50.91,371.29 51.37,370.44 51.83,369.59 52.30,368.74 52.76,367.89 53.22,367.04 53.69,366.19 54.15,365.35 54.62,364.50 55.09,363.65 55.55,362.81 56.02,361.96 56.50,361.12 56.97,360.28 57.44,359.43 57.91,358.59 58.39,357.75 58.87,356.91 59.34,356.07 59.82,355.23 60.30,354.39 60.78,353.55 61.26,352.71 61.75,351.88 62.23,351.04 62.72,350.20 63.20,349.37 63.69,348.53 64.18,347.70 64.68,346.87 65.17,346.04 65.67,345.22 66.18,344.39 66.68,343.57 67.19,342.74 67.70,341.92 68.21,341.10 68.72,340.28 69.23,339.46 69.74,338.64 70.25,337.82 70.76,337.00 71.27,336.18 71.79,335.36 72.30,334.54 72.81,333.72 73.32,332.90 73.82,332.07 74.34,331.25 74.84,330.42 75.33,329.59 75.79,328.75 76.23,327.89 76.66,327.02 77.07,326.15 77.48,325.27 77.88,324.39 78.28,323.51 78.68,322.63 79.08,321.75 79.48,320.87 79.90,319.99 80.32,319.12 80.73,318.25 81.15,317.38 81.57,316.51 81.99,315.64 82.42,314.77 82.84,313.90 83.26,313.03 83.68,312.16 84.10,311.29 84.53,310.42 84.95,309.55 85.37,308.68 85.79,307.81 86.22,306.95 86.64,306.08 87.07,305.21 87.49,304.34 87.92,303.47 88.35,302.61 88.78,301.74 89.21,300.88 89.64,300.01 90.07,299.15 90.51,298.28 90.94,297.42 91.38,296.56 91.82,295.70 92.26,294.84 92.70,293.98 93.15,293.12 93.59,292.26 94.03,291.40 94.47,290.53 94.91,289.67 95.37,288.82 95.84,287.98 96.33,287.15 96.84,286.34 97.38,285.53 97.93,284.74 98.50,283.96 99.07,283.17 99.64,282.39 100.20,281.60 100.74,280.80 101.26,279.99 101.76,279.15 102.24,278.31 102.72,277.46 103.19,276.61 103.68,275.78 104.20,274.96 104.74,274.18 105.32,273.43 105.95,272.70 106.60,271.98 107.27,271.28 107.95,270.59 108.64,269.91 109.33,269.21 110.00,268.52 110.66,267.81 111.30,267.08 111.93,266.33 112.56,265.58 113.20,264.84 113.84,264.11 114.49,263.40 115.17,262.72 115.87,262.08 116.61,261.48 117.38,260.90 118.19,260.36 119.02,259.84 119.86,259.37 120.72,258.91 121.60,258.46 122.50,258.11 123.42,257.94 124.38,257.82 125.35,257.74 126.33,257.70 127.29,257.70 128.26,257.70 129.22,257.70 130.19,257.70 131.15,257.70 132.12,257.70 133.09,257.70 134.05,257.70 135.02,257.70 135.99,257.70 136.95,257.70 137.92,257.70 138.89,257.70 139.85,257.70 140.82,257.70 141.79,257.70 142.76,257.70 143.72,257.70 144.69,257.70 145.66,257.70 146.62,257.70 147.59,257.70 148.56,257.70 149.52,257.70 150.49,257.70 151.46,257.70 152.43,257.70 153.41,257.70 154.38,257.70 155.36,257.70 156.33,257.70 157.30,257.70 158.27,257.70 159.24,257.70 160.21,257.70 161.16,257.70 162.12,257.70 163.07,257.70 164.02,257.74 164.98,257.97 165.91,258.33 166.74,258.73 167.50,259.27 168.21,259.96 168.88,260.73 169.49,261.49 170.06,262.25 170.58,263.05 171.08,263.88 171.56,264.73 172.04,265.59 172.51,266.44 172.98,267.28 173.45,268.13 173.91,268.98 174.37,269.83 174.82,270.68 175.27,271.54 175.72,272.39 176.17,273.25 176.62,274.11 177.07,274.96 177.51,275.82 177.94,276.68 178.38,277.55 178.80,278.42 179.21,279.29 179.62,280.17 180.03,281.05 180.43,281.92 180.84,282.80 181.25,283.68 181.67,284.55 182.08,285.42 182.49,286.30 182.91,287.18 183.35,288.04 183.81,288.88 184.31,289.70 184.87,290.49 185.45,291.26 186.05,292.03 186.64,292.80 187.20,293.58 187.75,294.38 188.29,295.18 188.82,295.98 189.36,296.79 189.89,297.60 190.42,298.41 190.95,299.21 191.49,300.02 192.03,300.81 192.58,301.61 193.14,302.40 193.69,303.19 194.25,303.98 194.82,304.77 195.38,305.55 195.95,306.33 196.52,307.11 197.09,307.89 197.67,308.67 198.26,309.43 198.85,310.20 199.45,310.96 200.04,311.73 200.62,312.50 201.20,313.28 201.76,314.06 202.30,314.86 202.84,315.66 203.35,316.48 203.86,317.30 204.36,318.12 204.86,318.96 205.35,319.79 205.85,320.62 206.35,321.44 206.86,322.26 207.38,323.08 207.89,323.91 208.40,324.73 208.91,325.55 209.42,326.37 209.94,327.18 210.47,327.99 211.00,328.80 211.54,329.60 212.09,330.39 212.64,331.18 213.21,331.97 213.77,332.75 214.34,333.54 214.91,334.32 215.47,335.10 216.04,335.89 216.59,336.68 217.15,337.47 217.71,338.26 218.27,339.04 218.83,339.83 219.39,340.62 219.95,341.41 220.51,342.20 221.07,342.99 221.62,343.78 222.18,344.57 222.74,345.36 223.30,346.14 223.86,346.93 224.41,347.72 224.97,348.51 225.53,349.30 226.09,350.09 226.65,350.88 227.20,351.67 227.76,352.46 228.32,353.25 228.88,354.04 229.44,354.83 229.99,355.61 230.55,356.40 231.11,357.19 231.67,357.98 232.22,358.77 232.78,359.56 233.34,360.35 233.90,361.14 234.45,361.93 235.01,362.72 235.57,363.51 236.13,364.30 236.68,365.09 237.24,365.88 237.80,366.67 238.35,367.46 238.91,368.25 239.47,369.04 240.02,369.83 240.58,370.62 241.13,371.41 241.69,372.20 242.25,372.99 242.80,373.79 243.36,374.58 243.91,375.37 244.47,376.16 245.02,376.95 245.58,377.74 246.13,378.53 246.69,379.32 247.24,380.11 247.80,380.90 248.35,381.70 248.91,382.49 249.46,383.28 250.02,384.07 250.57,384.86 251.13,385.65 251.68,386.45 252.24,387.24 252.79,388.03 253.35,388.82 253.90,389.61 254.45,390.41 255.01,391.20 255.56,391.99 256.11,392.78 256.67,393.57 257.22,394.37 257.78,395.16 258.33,395.95 258.88,396.74 259.44,397.54 259.99,398.33 260.54,399.12 261.09,399.91 261.65,400.71 262.20,401.50" fill="none" stroke="#222" stroke-width="0.8" stroke-dasharray="4 3.2" stroke-linejoin="round" />
<rect x="35.70" y="240.20" width="226.50" height="178.20" fill="none" stroke="#4a4a4a" stroke-width="0.7"/>
<line x1="35.70" y1="418.40" x2="35.70" y2="416.40" stroke="#4a4a4a" stroke-width="0.5"/>
<line x1="35.70" y1="240.20" x2="35.70" y2="242.20" stroke="#4a4a4a" stroke-width="0.5"/>
<text x="35.70" y="429.60" font-size="6.7" text-anchor="middle" fill="#444" stroke="#444" stroke-width="0.0" font-family="Liberation Sans, Arial, sans-serif" >0</text>
<line x1="73.45" y1="418.40" x2="73.45" y2="416.40" stroke="#4a4a4a" stroke-width="0.5"/>
<line x1="73.45" y1="240.20" x2="73.45" y2="242.20" stroke="#4a4a4a" stroke-width="0.5"/>
<text x="73.45" y="429.60" font-size="6.7" text-anchor="middle" fill="#444" stroke="#444" stroke-width="0.0" font-family="Liberation Sans, Arial, sans-serif" >0.5</text>
<line x1="111.20" y1="418.40" x2="111.20" y2="416.40" stroke="#4a4a4a" stroke-width="0.5"/>
<line x1="111.20" y1="240.20" x2="111.20" y2="242.20" stroke="#4a4a4a" stroke-width="0.5"/>
<text x="111.20" y="429.60" font-size="6.7" text-anchor="middle" fill="#444" stroke="#444" stroke-width="0.0" font-family="Liberation Sans, Arial, sans-serif" >1</text>
<line x1="148.95" y1="418.40" x2="148.95" y2="416.40" stroke="#4a4a4a" stroke-width="0.5"/>
<line x1="148.95" y1="240.20" x2="148.95" y2="242.20" stroke="#4a4a4a" stroke-width="0.5"/>
<text x="148.95" y="429.60" font-size="6.7" text-anchor="middle" fill="#444" stroke="#444" stroke-width="0.0" font-family="Liberation Sans, Arial, sans-serif" >1.5</text>
<line x1="186.70" y1="418.40" x2="186.70" y2="416.40" stroke="#4a4a4a" stroke-width="0.5"/>
<line x1="186.70" y1="240.20" x2="186.70" y2="242.20" stroke="#4a4a4a" stroke-width="0.5"/>
<text x="186.70" y="429.60" font-size="6.7" text-anchor="middle" fill="#444" stroke="#444" stroke-width="0.0" font-family="Liberation Sans, Arial, sans-serif" >2</text>
<line x1="224.45" y1="418.40" x2="224.45" y2="416.40" stroke="#4a4a4a" stroke-width="0.5"/>
<line x1="224.45" y1="240.20" x2="224.45" y2="242.20" stroke="#4a4a4a" stroke-width="0.5"/>
<text x="224.45" y="429.60" font-size="6.7" text-anchor="middle" fill="#444" stroke="#444" stroke-width="0.0" font-family="Liberation Sans, Arial, sans-serif" >2.5</text>
<line x1="262.20" y1="418.40" x2="262.20" y2="416.40" stroke="#4a4a4a" stroke-width="0.5"/>
<line x1="262.20" y1="240.20" x2="262.20" y2="242.20" stroke="#4a4a4a" stroke-width="0.5"/>
<text x="262.20" y="429.60" font-size="6.7" text-anchor="middle" fill="#444" stroke="#444" stroke-width="0.0" font-family="Liberation Sans, Arial, sans-serif" >3</text>
<line x1="35.70" y1="418.40" x2="37.70" y2="418.40" stroke="#4a4a4a" stroke-width="0.5"/>
<line x1="262.20" y1="418.40" x2="260.20" y2="418.40" stroke="#4a4a4a" stroke-width="0.5"/>
<text x="32.70" y="421.60" font-size="6.7" text-anchor="end" fill="#444" stroke="#444" stroke-width="0.0" font-family="Liberation Sans, Arial, sans-serif" >−1000</text>
<line x1="35.70" y1="400.58" x2="37.70" y2="400.58" stroke="#4a4a4a" stroke-width="0.5"/>
<line x1="262.20" y1="400.58" x2="260.20" y2="400.58" stroke="#4a4a4a" stroke-width="0.5"/>
<text x="32.70" y="403.78" font-size="6.7" text-anchor="end" fill="#444" stroke="#444" stroke-width="0.0" font-family="Liberation Sans, Arial, sans-serif" >0</text>
<line x1="35.70" y1="382.76" x2="37.70" y2="382.76" stroke="#4a4a4a" stroke-width="0.5"/>
<line x1="262.20" y1="382.76" x2="260.20" y2="382.76" stroke="#4a4a4a" stroke-width="0.5"/>
<text x="32.70" y="385.96" font-size="6.7" text-anchor="end" fill="#444" stroke="#444" stroke-width="0.0" font-family="Liberation Sans, Arial, sans-serif" >1000</text>
<line x1="35.70" y1="364.94" x2="37.70" y2="364.94" stroke="#4a4a4a" stroke-width="0.5"/>
<line x1="262.20" y1="364.94" x2="260.20" y2="364.94" stroke="#4a4a4a" stroke-width="0.5"/>
<text x="32.70" y="368.14" font-size="6.7" text-anchor="end" fill="#444" stroke="#444" stroke-width="0.0" font-family="Liberation Sans, Arial, sans-serif" >2000</text>
<line x1="35.70" y1="347.12" x2="37.70" y2="347.12" stroke="#4a4a4a" stroke-width="0.5"/>
<line x1="262.20" y1="347.12" x2="260.20" y2="347.12" stroke="#4a4a4a" stroke-width="0.5"/>
<text x="32.70" y="350.32" font-size="6.7" text-anchor="end" fill="#444" stroke="#444" stroke-width="0.0" font-family="Liberation Sans, Arial, sans-serif" >3000</text>
<line x1="35.70" y1="329.30" x2="37.70" y2="329.30" stroke="#4a4a4a" stroke-width="0.5"/>
<line x1="262.20" y1="329.30" x2="260.20" y2="329.30" stroke="#4a4a4a" stroke-width="0.5"/>
<text x="32.70" y="332.50" font-size="6.7" text-anchor="end" fill="#444" stroke="#444" stroke-width="0.0" font-family="Liberation Sans, Arial, sans-serif" >4000</text>
<line x1="35.70" y1="311.48" x2="37.70" y2="311.48" stroke="#4a4a4a" stroke-width="0.5"/>
<line x1="262.20" y1="311.48" x2="260.20" y2="311.48" stroke="#4a4a4a" stroke-width="0.5"/>
<text x="32.70" y="314.68" font-size="6.7" text-anchor="end" fill="#444" stroke="#444" stroke-width="0.0" font-family="Liberation Sans, Arial, sans-serif" >5000</text>
<line x1="35.70" y1="293.66" x2="37.70" y2="293.66" stroke="#4a4a4a" stroke-width="0.5"/>
<line x1="262.20" y1="293.66" x2="260.20" y2="293.66" stroke="#4a4a4a" stroke-width="0.5"/>
<text x="32.70" y="296.86" font-size="6.7" text-anchor="end" fill="#444" stroke="#444" stroke-width="0.0" font-family="Liberation Sans, Arial, sans-serif" >6000</text>
<line x1="35.70" y1="275.84" x2="37.70" y2="275.84" stroke="#4a4a4a" stroke-width="0.5"/>
<line x1="262.20" y1="275.84" x2="260.20" y2="275.84" stroke="#4a4a4a" stroke-width="0.5"/>
<text x="32.70" y="279.04" font-size="6.7" text-anchor="end" fill="#444" stroke="#444" stroke-width="0.0" font-family="Liberation Sans, Arial, sans-serif" >7000</text>
<line x1="35.70" y1="258.02" x2="37.70" y2="258.02" stroke="#4a4a4a" stroke-width="0.5"/>
<line x1="262.20" y1="258.02" x2="260.20" y2="258.02" stroke="#4a4a4a" stroke-width="0.5"/>
<text x="32.70" y="261.22" font-size="6.7" text-anchor="end" fill="#444" stroke="#444" stroke-width="0.0" font-family="Liberation Sans, Arial, sans-serif" >8000</text>
<line x1="35.70" y1="240.20" x2="37.70" y2="240.20" stroke="#4a4a4a" stroke-width="0.5"/>
<line x1="262.20" y1="240.20" x2="260.20" y2="240.20" stroke="#4a4a4a" stroke-width="0.5"/>
<text x="32.70" y="243.40" font-size="6.7" text-anchor="end" fill="#444" stroke="#444" stroke-width="0.0" font-family="Liberation Sans, Arial, sans-serif" >9000</text>
<text x="148.95" y="440.10" font-size="7.5" text-anchor="middle" fill="#333" stroke="#333" stroke-width="0.06" font-family="Liberation Sans, Arial, sans-serif" >East [m]</text>
<text x="247" y="440.4" font-size="6.7" fill="#444" font-family="Liberation Sans, Arial, sans-serif">× 10<tspan font-size="4.8" dy="-2.8">4</tspan></text>
<text transform="translate(10.7,329.30) rotate(-90)" font-size="7.5" text-anchor="middle" fill="#333" stroke="#333" stroke-width="0.06" font-family="Liberation Sans, Arial, sans-serif">Up [m]</text>
<rect x="180.70" y="245.50" width="76.60" height="27.50" fill="#fff" stroke="#4a4a4a" stroke-width="0.6"/>
<line x1="183.60" y1="250.50" x2="203.80" y2="250.50" stroke="#0072BD" stroke-width="0.7"/>
<line x1="183.60" y1="259.50" x2="203.80" y2="259.50" stroke="#D95319" stroke-width="0.7"/>
<line x1="183.60" y1="268.50" x2="203.80" y2="268.50" stroke="#222" stroke-width="0.8" stroke-dasharray="5.2 2.3"/>
<text x="205.70" y="253.00" font-size="6.2" text-anchor="start" fill="#333" stroke="#333" stroke-width="0.06" font-family="Liberation Sans, Arial, sans-serif" >Modified model</text>
<text x="205.70" y="261.50" font-size="6.2" text-anchor="start" fill="#333" stroke="#333" stroke-width="0.06" font-family="Liberation Sans, Arial, sans-serif" >Classic model</text>
<text x="205.70" y="270.20" font-size="6.2" text-anchor="start" fill="#333" stroke="#333" stroke-width="0.06" font-family="Liberation Sans, Arial, sans-serif" >Desired trajectory</text>
<line x1="375.10" y1="400.67" x2="375.10" y2="237.67" stroke="#d4d4d4" stroke-width="0.5"/>
<line x1="375.10" y1="400.67" x2="443.10" y2="416.17" stroke="#d4d4d4" stroke-width="0.5"/>
<line x1="424.70" y1="398.33" x2="424.70" y2="235.33" stroke="#d4d4d4" stroke-width="0.5"/>
<line x1="424.70" y1="398.33" x2="492.70" y2="413.83" stroke="#d4d4d4" stroke-width="0.5"/>
<line x1="474.30" y1="396.00" x2="474.30" y2="233.00" stroke="#d4d4d4" stroke-width="0.5"/>
<line x1="474.30" y1="396.00" x2="542.30" y2="411.50" stroke="#d4d4d4" stroke-width="0.5"/>
<line x1="496.97" y1="401.17" x2="496.97" y2="238.17" stroke="#d4d4d4" stroke-width="0.5"/>
<line x1="496.97" y1="401.17" x2="348.17" y2="408.17" stroke="#d4d4d4" stroke-width="0.5"/>
<line x1="519.63" y1="406.33" x2="519.63" y2="243.33" stroke="#d4d4d4" stroke-width="0.5"/>
<line x1="519.63" y1="406.33" x2="370.83" y2="413.33" stroke="#d4d4d4" stroke-width="0.5"/>
<line x1="542.30" y1="411.50" x2="542.30" y2="248.50" stroke="#d4d4d4" stroke-width="0.5"/>
<line x1="542.30" y1="411.50" x2="393.50" y2="418.50" stroke="#d4d4d4" stroke-width="0.5"/>
<line x1="325.50" y1="370.40" x2="474.30" y2="363.40" stroke="#d4d4d4" stroke-width="0.5"/>
<line x1="474.30" y1="363.40" x2="542.30" y2="378.90" stroke="#d4d4d4" stroke-width="0.5"/>
<line x1="325.50" y1="337.80" x2="474.30" y2="330.80" stroke="#d4d4d4" stroke-width="0.5"/>
<line x1="474.30" y1="330.80" x2="542.30" y2="346.30" stroke="#d4d4d4" stroke-width="0.5"/>
<line x1="325.50" y1="305.20" x2="474.30" y2="298.20" stroke="#d4d4d4" stroke-width="0.5"/>
<line x1="474.30" y1="298.20" x2="542.30" y2="313.70" stroke="#d4d4d4" stroke-width="0.5"/>
<line x1="325.50" y1="272.60" x2="474.30" y2="265.60" stroke="#d4d4d4" stroke-width="0.5"/>
<line x1="474.30" y1="265.60" x2="542.30" y2="281.10" stroke="#d4d4d4" stroke-width="0.5"/>
<line x1="325.50" y1="240.00" x2="474.30" y2="233.00" stroke="#d4d4d4" stroke-width="0.5"/>
<line x1="474.30" y1="233.00" x2="542.30" y2="248.50" stroke="#d4d4d4" stroke-width="0.5"/>
<line x1="474.30" y1="396.00" x2="325.50" y2="403.00" stroke="#d4d4d4" stroke-width="0.5"/>
<line x1="474.30" y1="396.00" x2="542.30" y2="411.50" stroke="#d4d4d4" stroke-width="0.5"/>
<polyline points="475.30,396.30 475.42,395.56 475.53,394.81 475.65,394.07 475.77,393.33 475.89,392.58 476.00,391.84 476.12,391.09 476.24,390.35 476.35,389.61 476.47,388.86 476.59,388.12 476.71,387.38 476.82,386.63 476.94,385.89 477.06,385.14 477.18,384.40 477.29,383.66 477.41,382.91 477.53,382.17 477.64,381.43 477.76,380.68 477.88,379.94 478.00,379.19 478.11,378.45 478.23,377.71 478.35,376.96 478.46,376.22 478.58,375.48 478.70,374.73 478.82,373.99 478.93,373.25 479.05,372.50 479.17,371.76 479.28,371.01 479.40,370.27 479.52,369.53 479.64,368.78 479.75,368.04 479.87,367.30 479.99,366.55 480.11,365.81 480.22,365.06 480.34,364.32 480.46,363.58 480.57,362.83 480.69,362.09 480.81,361.35 480.93,360.60 481.04,359.86 481.16,359.12 481.28,358.37 481.39,357.63 481.51,356.88 481.63,356.14 481.75,355.40 481.86,354.65 481.98,353.91 482.10,353.17 482.22,352.42 482.33,351.68 482.45,350.93 482.57,350.19 482.68,349.45 482.80,348.70 482.92,347.96 483.04,347.22 483.15,346.47 483.27,345.73 483.39,344.98 483.50,344.24 483.62,343.50 483.74,342.75 483.73,342.13 483.72,341.50 483.69,340.87 483.62,340.24 483.55,339.62 483.42,338.99 483.28,338.37 483.09,337.75 482.88,337.14 482.60,336.52 482.30,335.90 481.87,335.28 481.34,334.67 480.70,334.06 479.93,333.44 479.05,332.77 478.12,332.06 477.23,331.31 476.40,330.52 475.60,329.70 474.80,328.87 473.99,328.02 473.17,327.18 472.33,326.35 471.45,325.54 470.53,324.75 469.54,323.97 468.46,323.20 467.29,322.43 466.05,321.66 464.73,320.91 463.35,320.15 461.90,319.40 460.39,318.66 458.81,317.92 457.18,317.17 455.52,316.44 453.84,315.70 452.16,314.96 450.49,314.23 448.81,313.49 447.07,312.77 445.25,312.05 443.39,311.33 441.50,310.62 439.62,309.92 437.76,309.21 435.95,308.50 434.21,307.80 432.54,307.09 430.97,306.38 429.50,305.68 428.11,304.97 426.76,304.27 425.44,303.56 424.12,302.85 422.79,302.14 421.44,301.43 420.03,300.75 418.55,300.10 416.97,299.49 415.32,298.92 413.62,298.39 411.89,297.89 410.17,297.41 408.49,296.95 406.87,296.49 405.32,296.03 403.81,295.56 402.34,295.08 400.88,294.58 399.44,294.05 398.01,293.48 396.59,292.88 395.17,292.25 393.73,291.61 392.29,290.99 390.82,290.40 389.32,289.86 387.82,289.37 386.31,288.93 384.82,288.53 383.34,288.16 381.91,287.81 380.52,287.48 379.17,287.15 377.87,286.83 376.59,286.51 375.34,286.19 374.12,285.87 372.93,285.54 371.79,285.19 370.67,284.83 369.60,284.45 368.55,284.06 367.56,283.65 366.63,283.24 365.74,282.83 364.87,282.43 364.02,282.03 363.19,281.65 362.35,281.30 361.50,280.95 360.65,280.65 359.74,280.36 358.80,280.11 357.86,279.87 356.96,279.65 356.13,279.44 355.38,279.24 354.70,279.05 354.03,278.88 353.41,278.71 352.83,278.55 352.36,278.39 351.98,278.40 351.66,278.45 351.46,278.50 351.28,278.54 351.15,278.59 351.03,278.63 350.94,278.67 350.91,278.71 350.87,278.75 350.92,278.79 350.99,278.82 351.10,278.85 351.33,278.88 351.56,278.91 351.87,278.93 352.22,278.95 352.57,278.97 353.00,278.99 353.43,279.01 353.90,279.02 354.38,279.04 354.97,279.05 355.61,279.05 356.38,279.05 357.22,279.05 358.11,279.05 359.04,279.04 359.94,279.04 360.84,279.03 361.77,279.03 362.73,279.02 363.71,279.01 364.72,279.00 365.74,278.99 366.75,278.98 367.77,278.97 368.79,278.96 369.84,278.95 370.89,278.93 371.94,278.92 373.00,278.91 374.05,278.90 375.09,278.89 376.13,278.87 377.18,278.86 378.22,278.85 379.26,278.84 380.28,278.83 381.29,278.82 382.28,278.81 383.25,278.80 384.20,278.79 385.14,278.79 386.07,278.78 387.00,278.78 387.93,278.77 388.87,278.76 389.82,278.75 390.79,278.75 391.77,278.74 392.74,278.73 393.70,278.72 394.64,278.72 395.56,278.71 396.45,278.71 397.33,278.70 398.19,278.70 399.04,278.70 399.87,278.69 400.69,278.69 401.49,278.69 402.27,278.69 403.06,278.69 403.83,278.70 404.58,278.70 405.32,278.70 406.01,278.71 406.68,278.71 407.33,278.72 407.95,278.73 408.56,278.74 409.14,278.75 409.70,278.76 410.21,278.77 410.68,278.79 411.09,278.80 411.49,278.82 411.86,278.84 412.22,278.86 412.55,278.88 412.87,278.91 413.17,278.93 413.42,278.96 413.66,278.98 413.79,279.01 413.88,279.05 413.89,279.08 413.77,279.13 413.64,279.17 413.38,279.22 413.12,279.27 412.77,279.32 412.38,279.58 411.89,280.00 411.25,280.48 410.49,281.03 409.61,281.60 408.64,282.21 407.58,282.86 406.38,283.58 405.01,284.37 403.52,285.20 401.98,286.06 400.49,286.91 399.07,287.75 397.65,288.60 396.22,289.47 394.78,290.35 393.35,291.23 391.92,292.13 390.50,293.02 389.06,293.91 387.54,294.81 385.97,295.71 384.41,296.63 382.92,297.55 381.53,298.48 380.27,299.42 379.12,300.38 378.07,301.36 377.05,302.34 376.09,303.33 375.22,304.30 374.45,305.25 373.77,306.19 373.17,307.14 372.70,308.07 372.27,308.96 371.90,309.79 371.56,310.54 371.26,311.22 370.96,311.85 370.76,312.44 370.57,313.02 370.44,313.61 370.42,314.21 370.39,314.83 370.57,315.47 370.77,316.11 371.03,316.75 371.41,317.40 371.79,318.05 372.28,318.69 372.80,319.34 373.44,319.97 374.14,320.60 374.90,321.21 375.68,321.82 376.48,322.42 377.30,323.01 378.15,323.59 379.02,324.18 379.90,324.75 380.79,325.33 381.66,325.90 382.52,326.47 383.36,327.04 384.20,327.60 385.03,328.16 385.87,328.71 386.71,329.25 387.57,329.78 388.45,330.32 389.35,330.85 390.29,331.38 391.26,331.92 392.26,332.46 393.29,333.02 394.32,333.59 395.36,334.18 396.40,334.80 397.42,335.44 398.45,336.10 399.48,336.76 400.52,337.44 401.56,338.12 402.59,338.81 403.63,339.49 404.66,340.16 405.68,340.82 406.70,341.47 407.72,342.13 408.74,342.79 409.75,343.45 410.76,344.10 411.75,344.75 412.72,345.39 413.67,346.02 414.61,346.65 415.55,347.26 416.47,347.86 417.39,348.45 418.27,349.03 419.13,349.61 419.96,350.18 420.77,350.76 421.54,351.33 422.30,351.91 423.05,352.48 423.76,353.07 424.44,353.66 425.10,354.25 425.71,354.84 426.31,355.44 426.87,356.04 427.42,356.63 427.95,357.23 428.46,357.83 428.93,358.43 429.38,359.04 429.77,359.64 430.16,360.25 430.48,360.86 430.80,361.47 431.09,362.08 431.37,362.69 431.63,363.30 431.81,363.92 432.00,364.53 432.13,365.15 432.23,365.77 432.33,366.39 432.39,367.01 432.44,367.64 432.49,368.26 432.52,368.88 432.56,369.50 432.57,370.13 432.59,370.75 432.59,371.38 432.54,372.00 432.50,372.63 432.42,373.26 432.32,373.89 432.22,374.52 432.10,375.15 431.98,375.78 431.82,376.41 431.67,377.05 431.47,377.68 431.27,378.32 431.05,378.95 430.82,379.59 430.59,380.23 430.36,380.86 430.12,381.50 429.89,382.14 429.64,382.78 429.38,383.42 429.11,384.06 428.83,384.70 428.52,385.34 428.20,385.98 427.86,386.63 427.49,387.27 427.11,387.92 426.71,388.56 426.29,389.21 425.86,389.86 425.41,390.51 424.95,391.16 424.48,391.81 423.98,392.46 423.48,393.12 422.96,393.77 422.42,394.42 421.87,395.08 421.32,395.73 420.76,396.39 420.18,397.05 419.59,397.70 418.99,398.36 418.38,399.02 417.76,399.68 417.13,400.34 416.50,401.00 415.87,401.66 415.23,402.32 414.58,402.98 413.93,403.64 413.27,404.30 412.61,404.96 411.95,405.62 411.28,406.29 410.61,406.95 409.95,407.61 409.30,408.27 408.67,408.93 408.02,409.60 407.35,410.26 406.63,410.93 405.81,411.60 404.90,412.27 403.88,412.95 402.79,413.63 401.66,414.32 400.54,415.00 399.43,415.69 398.31,416.37 397.16,417.06 396.00,417.75 394.81,418.44" fill="none" stroke="#151515" stroke-width="1.15" stroke-dasharray="5.4 2.8" stroke-linejoin="round" />
<polyline points="482.14,339.15 483.74,342.75 483.73,342.13 483.72,341.50 483.69,340.87 483.62,340.24 483.55,339.62 483.42,338.99 483.28,338.37 483.09,337.75 482.88,337.14 482.60,336.52 482.30,335.90 481.87,335.28 481.34,334.67 480.70,334.06 479.93,333.44 479.05,332.77 478.12,332.06 477.23,331.31 476.40,330.52 475.60,329.70 474.80,328.87 473.99,328.02 473.17,327.18 472.33,326.35 471.45,325.54 470.53,324.75 469.54,323.97 468.46,323.20 467.29,322.43 466.05,321.66 464.73,320.91 463.35,320.15 461.90,319.40 460.39,318.66 458.81,317.92 457.18,317.17 455.52,316.44 453.84,315.70 452.16,314.96 450.49,314.23 448.81,313.49 447.07,312.77 445.25,312.05 443.39,311.33 441.50,310.62 439.62,309.92 437.76,309.21 435.95,308.50 434.21,307.80 432.54,307.09 430.97,306.38 429.50,305.68 428.11,304.97 426.76,304.27 425.44,303.56 424.12,302.85 422.79,302.14 421.44,301.43 420.03,300.75 418.55,300.10 416.97,299.49 415.32,298.92 413.62,298.39 411.89,297.89 410.17,297.41 408.49,296.95 406.87,296.49 405.32,296.03 403.81,295.56 402.34,295.08 400.88,294.58 399.44,294.05 398.01,293.48 396.59,292.88 395.17,292.25 393.73,291.61 392.29,290.99 390.82,290.40 389.32,289.86 387.82,289.37 386.31,288.93 384.82,288.53 383.34,288.16 381.91,287.81 380.52,287.48 379.17,287.15 377.87,286.83 376.59,286.51 375.34,286.19 374.12,285.87 372.93,285.54 371.79,285.19 370.67,284.83 369.60,284.45 368.55,284.06 367.56,283.65 366.63,283.24 365.74,282.83 364.87,282.43 364.02,282.03 363.19,281.65 362.35,281.30 361.50,280.95 360.65,280.65 359.74,280.36 358.80,280.11 357.86,279.87 356.96,279.65 356.13,279.44 355.38,279.24 354.70,279.05 354.03,278.88 353.41,278.71 352.83,278.55 352.36,278.39 351.98,278.40 351.66,278.45 351.46,278.50 351.28,278.54 351.15,278.59 351.03,278.63 350.94,278.67 350.91,278.71 350.87,278.75 350.92,278.79 350.99,278.82 351.10,278.85 351.33,278.88 351.56,278.91 351.87,278.93 352.22,278.95 352.57,278.97 353.00,278.99 353.43,279.01 353.90,279.02 354.38,279.04 354.97,279.05 355.61,279.05 356.38,279.05 357.22,279.05 358.11,279.05 359.04,279.04 359.94,279.04 360.84,279.03 361.77,279.03 362.73,279.02 363.71,279.01 364.72,279.00 365.74,278.99 366.75,278.98 367.77,278.97 368.79,278.96 369.84,278.95 370.89,278.93 371.94,278.92 373.00,278.91 374.05,278.90 375.09,278.89 376.13,278.87 377.18,278.86 378.22,278.85 379.26,278.84 380.28,278.83 381.29,278.82 382.28,278.81 383.25,278.80 384.20,278.79 385.14,278.79 386.07,278.78 387.00,278.78 387.93,278.77 388.87,278.76 389.82,278.75 390.79,278.75 391.77,278.74 392.74,278.73 393.70,278.72 394.64,278.72 395.56,278.71 396.45,278.71 397.33,278.70 398.19,278.70 399.04,278.70 399.87,278.69 400.69,278.69 401.49,278.69 402.27,278.69 403.06,278.69 403.83,278.70 404.58,278.70 405.32,278.70 406.01,278.71 406.68,278.71 407.33,278.72 407.95,278.73 408.56,278.74 409.14,278.75 409.70,278.76 410.21,278.77 410.68,278.79 411.09,278.80 411.49,278.82 411.86,278.84 412.22,278.86 412.55,278.88 412.87,278.91 413.17,278.93 413.42,278.96 413.66,278.98 413.79,279.01 413.88,279.05 413.89,279.08 413.77,279.13 413.64,279.17 413.38,279.22 413.12,279.27 412.77,279.32 412.38,279.58 411.89,280.00 411.25,280.48 410.49,281.03 409.61,281.60 408.64,282.21 407.58,282.86 406.38,283.58 405.01,284.37 403.52,285.20 401.98,286.06 400.49,286.91 399.07,287.75 397.65,288.60 396.22,289.47 394.78,290.35 393.35,291.23 391.92,292.13 390.50,293.02 389.06,293.91 387.54,294.81 385.97,295.71 384.41,296.63 382.92,297.55 381.53,298.48 380.27,299.42 379.12,300.38 378.07,301.36 377.05,302.34 376.09,303.33 375.22,304.30 374.45,305.25 373.77,306.19 373.17,307.14 372.70,308.07 372.27,308.96 371.90,309.79 371.56,310.54 371.26,311.22 370.96,311.85 370.76,312.44 370.57,313.02 370.44,313.61 370.42,314.21 370.39,314.83 370.57,315.47 370.77,316.11 371.03,316.75 371.41,317.40 371.79,318.05 372.28,318.69 372.80,319.34 373.44,319.97 374.14,320.60 374.90,321.21 375.68,321.82 376.48,322.42 377.30,323.01 378.15,323.59 379.02,324.18 379.90,324.75 380.79,325.33 381.66,325.90 382.52,326.47 383.36,327.04 384.20,327.60 385.03,328.16 385.87,328.71 386.71,329.25 387.57,329.78 388.45,330.32 389.35,330.85 390.29,331.38 391.26,331.92 392.26,332.46 393.29,333.02 394.32,333.59 395.36,334.18 396.40,334.80 397.42,335.44 398.45,336.10 399.48,336.76 400.52,337.44 401.56,338.12 402.59,338.81 403.63,339.49 404.66,340.16 405.68,340.82 406.70,341.47 407.72,342.13 408.74,342.79 409.75,343.45 410.76,344.10 411.75,344.75 412.72,345.39 413.67,346.02 414.61,346.65 415.55,347.26 416.47,347.86 417.39,348.45 418.27,349.03 419.13,349.61 419.96,350.18 420.77,350.76 421.54,351.33 422.30,351.91 423.05,352.48 423.76,353.07 424.44,353.66 425.10,354.25 425.71,354.84 426.31,355.44 426.87,356.04 427.42,356.63 427.95,357.23 428.46,357.83 428.93,358.43 429.38,359.04 429.77,359.64 430.16,360.25 430.48,360.86 430.80,361.47 431.09,362.08 431.37,362.69 431.63,363.30 431.81,363.92 432.00,364.53 432.13,365.15 432.23,365.77 432.33,366.39 432.39,367.01 432.44,367.64 432.49,368.26 432.52,368.88 432.56,369.50 432.57,370.13 432.59,370.75 432.59,371.38 432.54,372.00 432.50,372.63 432.42,373.26 432.32,373.89 432.22,374.52 432.10,375.15 431.98,375.78 431.82,376.41 431.67,377.05 431.47,377.68 431.27,378.32 431.05,378.95 430.82,379.59 430.59,380.23 430.36,380.86 430.12,381.50 429.89,382.14 429.64,382.78 429.38,383.42 429.11,384.06 428.83,384.70 428.52,385.34 428.20,385.98 427.86,386.63 427.49,387.27 427.11,387.92 426.71,388.56 426.29,389.21 425.86,389.86 425.41,390.51 424.95,391.16 424.48,391.81 423.98,392.46 423.48,393.12 422.96,393.77 422.42,394.42 421.87,395.08 421.32,395.73 420.76,396.39 420.18,397.05 419.59,397.70 418.99,398.36 418.38,399.02 417.76,399.68 417.13,400.34 416.50,401.00 415.87,401.66 415.23,402.32 414.58,402.98 413.93,403.64 413.27,404.30 412.61,404.96 411.95,405.62 411.28,406.29 410.61,406.95 409.95,407.61 409.30,408.27 408.67,408.93 408.02,409.60 407.35,410.26 406.63,410.93 405.81,411.60 404.90,412.27 403.88,412.95 402.79,413.63 401.66,414.32 400.54,415.00 399.43,415.69 398.31,416.37 397.16,417.06 396.00,417.75 394.81,418.44" fill="none" stroke="#e6cf4a" stroke-width="1.1" stroke-dasharray="1.7 6.5" stroke-linejoin="round" stroke-dashoffset="5.07"/>
<polyline points="484.92,337.29 484.78,336.67 484.59,336.05 484.38,335.44 484.10,334.82 483.80,334.20 483.37,333.58 482.84,332.97 482.20,332.36 481.43,331.73 480.55,331.07 479.62,330.36 478.73,329.60 477.90,328.82 477.10,328.00 476.30,327.17 475.49,326.32 474.67,325.48 473.83,324.65 472.95,323.84 472.03,323.05 471.04,322.27 469.96,321.50 468.79,320.73 467.55,319.96 466.23,319.21 464.85,318.45 463.40,317.70 461.89,316.96 460.31,316.22 458.68,315.47 457.02,314.74 455.34,314.00 453.66,313.26 451.99,312.53 450.31,311.79 448.57,311.07 446.75,310.35 444.89,309.63 442.99,308.94 441.09,308.25 439.21,307.56 437.38,306.88 435.62,306.19 433.94,305.50 432.35,304.82 430.87,304.13 429.45,303.45 428.09,302.76 426.75,302.08 425.41,301.39 424.07,300.69 422.69,300.01 421.27,299.35 419.77,298.72 418.17,298.13 416.50,297.58 414.78,297.07 413.04,296.59 411.30,296.13 409.60,295.69 407.97,295.25 406.40,294.81 404.87,294.36 403.37,293.91 401.90,293.43 400.45,292.92 399.00,292.37 397.56,291.78 396.11,291.17 394.66,290.56 393.20,289.96 391.71,289.39 390.20,288.86 388.67,288.39 387.15,287.98 385.64,287.60 384.15,287.25 382.70,286.92 381.28,286.61 379.92,286.30 378.60,286.00 377.30,285.70 376.04,285.40 374.80,285.10 373.59,284.79 372.43,284.47 371.30,284.12 370.20,283.76 369.14,283.39 368.13,283.01 367.18,282.62 366.27,282.23 365.39,281.84 364.52,281.46 363.67,281.11 362.81,280.77 361.95,280.45 361.07,280.17 360.15,279.90 359.19,279.67 358.23,279.45 357.31,279.25 356.46,279.06 355.69,278.88 355.00,278.71 354.31,278.56 353.67,278.41 353.08,278.27 352.59,278.13 352.19,278.16 351.85,278.24 351.63,278.30 351.43,278.37 351.29,278.43 351.15,278.50 351.05,278.56 350.99,278.62 350.93,278.68 350.96,278.73 351.02,278.79 351.11,278.84 351.33,278.88" fill="none" stroke="#2828f0" stroke-width="0.9" stroke-dasharray="4.6 3.6" stroke-linejoin="round" />
<polyline points="351.33,278.88 351.56,278.91 351.87,278.93 352.22,278.95 352.57,278.97 353.00,278.99 353.43,279.01 353.90,279.02 354.38,279.04 354.97,279.05 355.61,279.05 356.38,279.05 357.22,279.05 358.11,279.05 359.04,279.04 359.94,279.04 360.84,279.03 361.77,279.03 362.73,279.02 363.71,279.01 364.72,279.00 365.74,278.99 366.75,278.98 367.77,278.97 368.79,278.96 369.84,278.95 370.89,278.93 371.94,278.92 373.00,278.91 374.05,278.90 375.09,278.89 376.13,278.87 377.18,278.86 378.22,278.85 379.26,278.84 380.28,278.83 381.29,278.82 382.28,278.81 383.25,278.80 384.20,278.79 385.14,278.79 386.07,278.78 387.00,278.78 387.93,278.77 388.87,278.76 389.82,278.75 390.79,278.75 391.77,278.74 392.74,278.73 393.70,278.72 394.64,278.72 395.56,278.71 396.45,278.71 397.33,278.70 398.19,278.70 399.04,278.70 399.87,278.69 400.69,278.69 401.49,278.69 402.27,278.69 403.06,278.69 403.83,278.70 404.58,278.70 405.32,278.70 406.01,278.71 406.68,278.71 407.33,278.72 407.95,278.73 408.56,278.74 409.14,278.75 409.70,278.76 410.21,278.77 410.68,278.79 411.09,278.80 411.49,278.82 411.86,278.84 412.22,278.86 412.55,278.88 412.87,278.91 413.17,278.93 413.42,278.96 413.66,278.98 413.79,279.01 413.88,279.05 413.89,279.08 413.77,279.13 413.64,279.17 413.38,279.22 413.12,279.27 412.77,279.32 412.38,279.58 411.89,280.00 411.25,280.48 410.49,281.03 409.61,281.60 408.64,282.21 407.58,282.86 406.38,283.58 405.01,284.37 403.52,285.20 401.98,286.06 400.49,286.91 399.07,287.75 397.65,288.60 396.22,289.47 394.78,290.35 393.35,291.23 391.92,292.13 390.50,293.02 389.06,293.91 387.54,294.81 385.97,295.71 384.41,296.63 382.92,297.55 381.53,298.48 380.27,299.42 379.12,300.38 378.07,301.36 377.05,302.34 376.09,303.33 375.22,304.30 374.45,305.25 373.77,306.19 373.17,307.14 372.70,308.07 372.27,308.96 371.90,309.79 371.56,310.54 371.26,311.22 370.96,311.85 370.76,312.44 370.57,313.02 370.44,313.61 370.42,314.21" fill="none" stroke="#2828f0" stroke-width="1.05" stroke-dasharray="1.6 6.6" stroke-linejoin="round" stroke-dashoffset="3.06"/>
<polyline points="370.42,317.46 370.39,318.89 370.57,320.26 370.77,321.51 371.03,322.68 371.41,323.74 371.79,324.71 372.28,325.58 372.80,326.39 373.44,327.16 374.14,327.89 374.90,328.59 375.68,329.26 376.48,329.90 377.30,330.52 378.15,331.13 379.02,331.72 379.90,332.28 380.79,332.82 381.66,333.34 382.52,333.84 383.36,334.30 384.20,334.74 385.03,335.15 385.87,335.52 386.71,335.85 387.57,336.16 388.45,336.43 389.35,336.69 390.29,336.94 391.26,337.19 392.26,337.44 393.29,337.69 394.32,337.97 395.36,338.27 396.40,338.60 397.42,338.96 398.45,339.35 399.48,339.73 400.52,340.13 401.56,340.54 402.59,340.95 403.63,341.36 404.66,341.79 405.68,342.22 406.70,342.71 407.72,343.22 408.74,343.75 409.75,344.28 410.76,344.79 411.75,345.28 412.72,345.76 413.67,346.24 414.61,346.72 415.55,347.24 416.47,347.77 417.39,348.32 418.27,348.88 419.13,349.47 419.96,350.06 420.77,350.66" fill="none" stroke="#2828f0" stroke-width="0.9" stroke-dasharray="4.6 3.6" stroke-linejoin="round" stroke-dashoffset="2"/>
<polyline points="420.77,350.76 421.54,351.33 422.30,351.91 423.05,352.48 423.76,353.07 424.44,353.66 425.10,354.25 425.71,354.84 426.31,355.44 426.87,356.04 427.42,356.63 427.95,357.23 428.46,357.83 428.93,358.43 429.38,359.04 429.77,359.64 430.16,360.25 430.48,360.86 430.80,361.47 431.09,362.08 431.37,362.69 431.63,363.30 431.81,363.92 432.00,364.53 432.13,365.15 432.23,365.77 432.33,366.39 432.39,367.01 432.44,367.64 432.49,368.26 432.52,368.88 432.56,369.50 432.57,370.13 432.59,370.75 432.59,371.38 432.54,372.00 432.50,372.63 432.42,373.26 432.32,373.89 432.22,374.52 432.10,375.15 431.98,375.78 431.82,376.41 431.67,377.05 431.47,377.68 431.27,378.32 431.05,378.95 430.82,379.59 430.59,380.23 430.36,380.86 430.12,381.50 429.89,382.14 429.64,382.78 429.38,383.42 429.11,384.06 428.83,384.70 428.52,385.34 428.20,385.98 427.86,386.63 427.49,387.27 427.11,387.92 426.71,388.56 426.29,389.21 425.86,389.86 425.41,390.51 424.95,391.16 424.48,391.81 423.98,392.46 423.48,393.12 422.96,393.77 422.42,394.42 421.87,395.08 421.32,395.73 420.76,396.39 420.18,397.05 419.59,397.70 418.99,398.36 418.38,399.02 417.76,399.68 417.13,400.34 416.50,401.00 415.87,401.66 415.23,402.32 414.58,402.98 413.93,403.64 413.27,404.30 412.61,404.96 411.95,405.62 411.28,406.29 410.61,406.95 409.95,407.61 409.30,408.27 408.67,408.93 408.02,409.60 407.35,410.26 406.63,410.93 405.81,411.60 404.90,412.27 403.88,412.95 402.79,413.63 401.66,414.32 400.54,415.00 399.43,415.69 398.31,416.37 397.16,417.06 396.00,417.75 394.81,418.44" fill="none" stroke="#2828f0" stroke-width="1.05" stroke-dasharray="1.6 6.6" stroke-linejoin="round" stroke-dashoffset="6.04"/>
<rect x="471.0" y="391.9" width="8.7" height="8.7" fill="#0000ee" stroke="#a03030" stroke-width="0.7"/>
<line x1="325.50" y1="403.00" x2="325.50" y2="240.00" stroke="#4a4a4a" stroke-width="0.7"/>
<line x1="325.50" y1="403.00" x2="393.50" y2="418.50" stroke="#4a4a4a" stroke-width="0.7"/>
<line x1="393.50" y1="418.50" x2="542.30" y2="411.50" stroke="#4a4a4a" stroke-width="0.7"/>
<line x1="325.50" y1="403.00" x2="322.10" y2="402.60" stroke="#4a4a4a" stroke-width="0.5"/>
<text x="319.10" y="405.30" font-size="6.7" text-anchor="end" fill="#444" stroke="#444" stroke-width="0.0" font-family="Liberation Sans, Arial, sans-serif" >0</text>
<line x1="325.50" y1="370.40" x2="322.10" y2="370.00" stroke="#4a4a4a" stroke-width="0.5"/>
<text x="319.10" y="372.70" font-size="6.7" text-anchor="end" fill="#444" stroke="#444" stroke-width="0.0" font-family="Liberation Sans, Arial, sans-serif" >2000</text>
<line x1="325.50" y1="337.80" x2="322.10" y2="337.40" stroke="#4a4a4a" stroke-width="0.5"/>
<text x="319.10" y="340.10" font-size="6.7" text-anchor="end" fill="#444" stroke="#444" stroke-width="0.0" font-family="Liberation Sans, Arial, sans-serif" >4000</text>
<line x1="325.50" y1="305.20" x2="322.10" y2="304.80" stroke="#4a4a4a" stroke-width="0.5"/>
<text x="319.10" y="307.50" font-size="6.7" text-anchor="end" fill="#444" stroke="#444" stroke-width="0.0" font-family="Liberation Sans, Arial, sans-serif" >6000</text>
<line x1="325.50" y1="272.60" x2="322.10" y2="272.20" stroke="#4a4a4a" stroke-width="0.5"/>
<text x="319.10" y="274.90" font-size="6.7" text-anchor="end" fill="#444" stroke="#444" stroke-width="0.0" font-family="Liberation Sans, Arial, sans-serif" >8000</text>
<line x1="325.50" y1="240.00" x2="322.10" y2="239.60" stroke="#4a4a4a" stroke-width="0.5"/>
<line x1="325.50" y1="403.00" x2="325.20" y2="406.30" stroke="#4a4a4a" stroke-width="0.5"/>
<line x1="348.17" y1="408.17" x2="347.87" y2="411.47" stroke="#4a4a4a" stroke-width="0.5"/>
<line x1="370.83" y1="413.33" x2="370.53" y2="416.63" stroke="#4a4a4a" stroke-width="0.5"/>
<line x1="393.50" y1="418.50" x2="393.20" y2="421.80" stroke="#4a4a4a" stroke-width="0.5"/>
<line x1="393.50" y1="418.50" x2="393.80" y2="421.80" stroke="#4a4a4a" stroke-width="0.5"/>
<line x1="443.10" y1="416.17" x2="443.40" y2="419.47" stroke="#4a4a4a" stroke-width="0.5"/>
<line x1="492.70" y1="413.83" x2="493.00" y2="417.13" stroke="#4a4a4a" stroke-width="0.5"/>
<line x1="542.30" y1="411.50" x2="542.60" y2="414.80" stroke="#4a4a4a" stroke-width="0.5"/>
<text x="323.10" y="417.80" font-size="6.7" text-anchor="middle" fill="#444" stroke="#444" stroke-width="0.0" font-family="Liberation Sans, Arial, sans-serif" >0</text>
<text x="345.60" y="423.00" font-size="6.7" text-anchor="middle" fill="#444" stroke="#444" stroke-width="0.0" font-family="Liberation Sans, Arial, sans-serif" >1</text>
<text x="368.00" y="427.90" font-size="6.7" text-anchor="middle" fill="#444" stroke="#444" stroke-width="0.0" font-family="Liberation Sans, Arial, sans-serif" >2</text>
<text x="390.50" y="433.10" font-size="6.7" text-anchor="middle" fill="#444" stroke="#444" stroke-width="0.0" font-family="Liberation Sans, Arial, sans-serif" >3</text>
<text x="395.20" y="433.10" font-size="6.7" text-anchor="start" fill="#444" stroke="#444" stroke-width="0.0" font-family="Liberation Sans, Arial, sans-serif" >1500</text>
<text x="443.80" y="430.30" font-size="6.7" text-anchor="start" fill="#444" stroke="#444" stroke-width="0.0" font-family="Liberation Sans, Arial, sans-serif" >1000</text>
<text x="492.70" y="427.80" font-size="6.7" text-anchor="start" fill="#444" stroke="#444" stroke-width="0.0" font-family="Liberation Sans, Arial, sans-serif" >500</text>
<text x="544.10" y="425.70" font-size="6.7" text-anchor="middle" fill="#444" stroke="#444" stroke-width="0.0" font-family="Liberation Sans, Arial, sans-serif" >0</text>
<text x="308.4" y="429.3" font-size="6.7" fill="#444" font-family="Liberation Sans, Arial, sans-serif">× 10<tspan font-size="4.8" dy="-2.8">4</tspan></text>
<text x="344.00" y="434.60" font-size="7.8" text-anchor="middle" fill="#555" stroke="#555" stroke-width="0" font-family="Liberation Serif, Times New Roman, serif" letter-spacing="0.35">East [m]</text>
<text x="476.50" y="436.10" font-size="7.8" text-anchor="middle" fill="#555" stroke="#555" stroke-width="0" font-family="Liberation Serif, Times New Roman, serif" letter-spacing="0.35">North [m]</text>
<text transform="translate(293.4,321.5) rotate(-90)" font-size="7.6" text-anchor="middle" fill="#555" font-family="Liberation Serif, Times New Roman, serif">Up [m]</text>
<rect x="438.00" y="259.40" width="106.90" height="36.80" fill="#fff" stroke="#4a4a4a" stroke-width="0.6"/>
<line x1="441.00" y1="265.50" x2="462.20" y2="265.50" stroke="#222" stroke-width="0.8" stroke-dasharray="5.4 2.8"/>
<rect x="449.5" y="271.3" width="4" height="4" fill="#0000ee" stroke="#a03030" stroke-width="0.4"/>
<line x1="441.00" y1="282.50" x2="462.20" y2="282.50" stroke="#e2cc55" stroke-width="0.8" stroke-dasharray="5.4 2.8"/>
<line x1="441.00" y1="291.50" x2="462.20" y2="291.50" stroke="#2828f0" stroke-width="0.8" stroke-dasharray="5.4 2.8"/>
<text x="463.90" y="267.20" font-size="6.4" text-anchor="start" fill="#333" stroke="#333" stroke-width="0.06" font-family="Liberation Sans, Arial, sans-serif" >Desired trajectory</text>
<text x="463.90" y="275.50" font-size="6.4" text-anchor="start" fill="#333" stroke="#333" stroke-width="0.06" font-family="Liberation Sans, Arial, sans-serif" >Launch position</text>
<text x="463.90" y="285.00" font-size="6.4" text-anchor="start" fill="#333" stroke="#333" stroke-width="0.06" font-family="Liberation Sans, Arial, sans-serif" >Flight path - Modified model</text>
<text x="463.90" y="293.90" font-size="6.4" text-anchor="start" fill="#333" stroke="#333" stroke-width="0.06" font-family="Liberation Sans, Arial, sans-serif" >Flight path - Classic model</text>
<text x="422.60" y="467.60" font-size="10.2" text-anchor="middle" fill="#111" font-family="Liberation Serif, Times New Roman, serif">(<tspan font-weight="bold">f</tspan>)</text>
</g>
</svg>
</body></html>
